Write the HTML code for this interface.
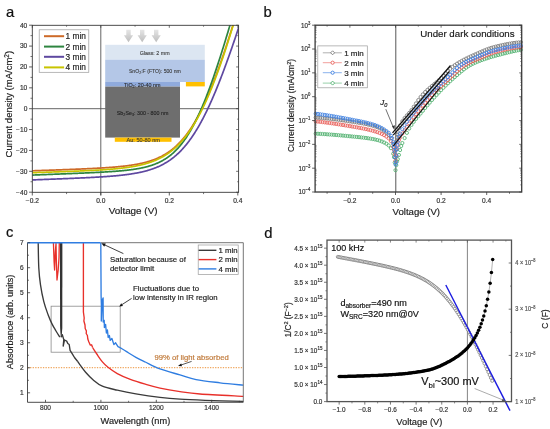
<!DOCTYPE html>
<html><head><meta charset="utf-8"><style>
html,body{margin:0;padding:0;background:#fff;width:550px;height:429px;overflow:hidden}
svg{display:block;will-change:transform}
</style></head><body>
<svg width="550" height="429" viewBox="0 0 550 429" font-family='"Liberation Sans", sans-serif'>
<rect x="0" y="0" width="550" height="429" fill="#fff"/>
<line x1="100.8" y1="25.3" x2="100.8" y2="195.3" stroke="#555" stroke-width="0.9" />
<line x1="32.3" y1="108.7" x2="238.6" y2="108.7" stroke="#555" stroke-width="0.9" />
<rect x="105.2" y="44.8" width="99.6" height="14.9" fill="#dce6f2" stroke="none" stroke-width="0.8" />
<rect x="105.2" y="59.7" width="99.6" height="22.3" fill="#b4c7e7" stroke="none" stroke-width="0.8" />
<rect x="105.2" y="82" width="74.8" height="4.6" fill="#8faadc" stroke="none" stroke-width="0.8" />
<rect x="185.9" y="82" width="18.9" height="4.4" fill="#ffc000" stroke="none" stroke-width="0.8" />
<rect x="105.2" y="86.6" width="74.8" height="51" fill="#6e6e6e" stroke="none" stroke-width="0.8" />
<rect x="114.8" y="137.6" width="56.7" height="4.2" fill="#ffc000" stroke="none" stroke-width="0.8" />
<text x="139.7" y="54.9" font-size="6.2" fill="#3a3a3a" stroke="#3a3a3a" stroke-width="0.12" textLength="29.9" lengthAdjust="spacingAndGlyphs">Glass: 2 mm</text>
<text x="128.9" y="73.2" font-size="6.2" fill="#3a3a3a" stroke="#3a3a3a" stroke-width="0.12" textLength="51.9" lengthAdjust="spacingAndGlyphs">SnO<tspan dy="1.2" font-size="0.7em">2</tspan><tspan dy="-1.2">:F (FTO): 500 nm</tspan></text>
<text x="124.1" y="86.9" font-size="6.2" fill="#2a2a2a" stroke="#2a2a2a" stroke-width="0.12" textLength="36.4" lengthAdjust="spacingAndGlyphs">TiO<tspan dy="1.2" font-size="0.7em">2</tspan><tspan dy="-1.2">: 20-40 nm</tspan></text>
<text x="116.8" y="114.6" font-size="6.2" fill="#222" stroke="#222" stroke-width="0.12" textLength="51.6" lengthAdjust="spacingAndGlyphs">Sb<tspan dy="1.2" font-size="0.7em">2</tspan><tspan dy="-1.2">Se</tspan><tspan dy="1.2" font-size="0.7em">3</tspan><tspan dy="-1.2">: 300 - 800  nm</tspan></text>
<text x="126.5" y="141.7" font-size="6.2" fill="#3a3a3a" stroke="#3a3a3a" stroke-width="0.12" textLength="33.5" lengthAdjust="spacingAndGlyphs">Au: 50-80 nm</text>
<defs><linearGradient id="ag" x1="0" y1="0" x2="0" y2="1"><stop offset="0" stop-color="#e6e6e6"/><stop offset="1" stop-color="#bdbdbd"/></linearGradient></defs>
<path d="M126.3,29.8 L130.7,29.8 L130.7,35.2 L133.1,35.2 L128.5,42.2 L123.9,35.2 L126.3,35.2 Z" fill="url(#ag)"/>
<path d="M140,29.8 L144.4,29.8 L144.4,35.2 L146.8,35.2 L142.2,42.2 L137.6,35.2 L140,35.2 Z" fill="url(#ag)"/>
<path d="M154,29.8 L158.4,29.8 L158.4,35.2 L160.8,35.2 L156.2,42.2 L151.6,35.2 L154,35.2 Z" fill="url(#ag)"/>
<clipPath id="ca"><rect x="32.3" y="25.3" width="206.3" height="167"/></clipPath>
<g clip-path="url(#ca)" stroke-linecap="round" stroke-linejoin="round">
<path d="M32.3,170.8 L32.8,170.78 L33.3,170.77 L33.8,170.75 L34.3,170.73 L34.8,170.72 L35.3,170.7 L35.8,170.68 L36.3,170.66 L36.8,170.65 L37.3,170.63 L37.8,170.61 L38.3,170.6 L38.8,170.58 L39.3,170.56 L39.8,170.54 L40.3,170.53 L40.8,170.51 L41.3,170.49 L41.8,170.47 L42.3,170.46 L42.8,170.44 L43.3,170.42 L43.8,170.4 L44.3,170.39 L44.8,170.37 L45.3,170.35 L45.8,170.33 L46.3,170.32 L46.8,170.3 L47.3,170.28 L47.8,170.26 L48.3,170.25 L48.8,170.23 L49.3,170.21 L49.8,170.19 L50.3,170.18 L50.8,170.16 L51.3,170.14 L51.8,170.12 L52.3,170.1 L52.8,170.09 L53.3,170.07 L53.8,170.05 L54.3,170.03 L54.8,170.01 L55.3,170 L55.8,169.98 L56.3,169.96 L56.8,169.94 L57.3,169.92 L57.8,169.91 L58.3,169.89 L58.8,169.87 L59.3,169.85 L59.8,169.83 L60.3,169.81 L60.8,169.8 L61.3,169.78 L61.8,169.76 L62.3,169.74 L62.8,169.72 L63.3,169.7 L63.8,169.68 L64.3,169.67 L64.8,169.65 L65.3,169.63 L65.8,169.61 L66.3,169.59 L66.8,169.57 L67.3,169.55 L67.8,169.53 L68.3,169.51 L68.8,169.49 L69.3,169.48 L69.8,169.46 L70.3,169.44 L70.8,169.42 L71.3,169.4 L71.8,169.38 L72.3,169.36 L72.8,169.34 L73.3,169.32 L73.8,169.3 L74.3,169.28 L74.8,169.26 L75.3,169.24 L75.8,169.22 L76.3,169.2 L76.8,169.18 L77.3,169.16 L77.8,169.14 L78.3,169.11 L78.8,169.09 L79.3,169.07 L79.8,169.05 L80.3,169.03 L80.8,169.01 L81.3,168.99 L81.8,168.97 L82.3,168.94 L82.8,168.92 L83.3,168.9 L83.8,168.88 L84.3,168.86 L84.8,168.83 L85.3,168.81 L85.8,168.79 L86.3,168.77 L86.8,168.74 L87.3,168.72 L87.8,168.7 L88.3,168.67 L88.8,168.65 L89.3,168.63 L89.8,168.6 L90.3,168.58 L90.8,168.55 L91.3,168.53 L91.8,168.5 L92.3,168.48 L92.8,168.45 L93.3,168.43 L93.8,168.4 L94.3,168.38 L94.8,168.35 L95.3,168.32 L95.8,168.3 L96.3,168.27 L96.8,168.24 L97.3,168.22 L97.8,168.19 L98.3,168.16 L98.8,168.13 L99.3,168.1 L99.8,168.08 L100.3,168.05 L100.8,168.02 L101.3,167.99 L101.8,167.96 L102.3,167.93 L102.8,167.9 L103.3,167.87 L103.8,167.83 L104.3,167.8 L104.8,167.77 L105.3,167.74 L105.8,167.7 L106.3,167.67 L106.8,167.64 L107.3,167.6 L107.8,167.57 L108.3,167.53 L108.8,167.5 L109.3,167.46 L109.8,167.43 L110.3,167.39 L110.8,167.35 L111.3,167.31 L111.8,167.27 L112.3,167.24 L112.8,167.2 L113.3,167.16 L113.8,167.11 L114.3,167.07 L114.8,167.03 L115.3,166.99 L115.8,166.94 L116.3,166.9 L116.8,166.86 L117.3,166.81 L117.8,166.76 L118.3,166.72 L118.8,166.67 L119.3,166.62 L119.8,166.57 L120.3,166.52 L120.8,166.47 L121.3,166.42 L121.8,166.37 L122.3,166.31 L122.8,166.26 L123.3,166.2 L123.8,166.15 L124.3,166.09 L124.8,166.03 L125.3,165.97 L125.8,165.91 L126.3,165.85 L126.8,165.79 L127.3,165.72 L127.8,165.66 L128.3,165.59 L128.8,165.52 L129.3,165.45 L129.8,165.38 L130.3,165.31 L130.8,165.24 L131.3,165.17 L131.8,165.09 L132.3,165.01 L132.8,164.94 L133.3,164.86 L133.8,164.77 L134.3,164.69 L134.8,164.61 L135.3,164.52 L135.8,164.43 L136.3,164.34 L136.8,164.25 L137.3,164.16 L137.8,164.06 L138.3,163.96 L138.8,163.86 L139.3,163.76 L139.8,163.66 L140.3,163.55 L140.8,163.44 L141.3,163.33 L141.8,163.22 L142.3,163.11 L142.8,162.99 L143.3,162.87 L143.8,162.75 L144.3,162.62 L144.8,162.5 L145.3,162.37 L145.8,162.23 L146.3,162.1 L146.8,161.96 L147.3,161.82 L147.8,161.68 L148.3,161.53 L148.8,161.38 L149.3,161.23 L149.8,161.07 L150.3,160.91 L150.8,160.75 L151.3,160.58 L151.8,160.41 L152.3,160.24 L152.8,160.06 L153.3,159.88 L153.8,159.69 L154.3,159.5 L154.8,159.31 L155.3,159.12 L155.8,158.91 L156.3,158.71 L156.8,158.5 L157.3,158.28 L157.8,158.07 L158.3,157.84 L158.8,157.61 L159.3,157.38 L159.8,157.14 L160.3,156.9 L160.8,156.65 L161.3,156.4 L161.8,156.14 L162.3,155.88 L162.8,155.61 L163.3,155.34 L163.8,155.06 L164.3,154.77 L164.8,154.48 L165.3,154.18 L165.8,153.88 L166.3,153.57 L166.8,153.25 L167.3,152.93 L167.8,152.6 L168.3,152.26 L168.8,151.92 L169.3,151.57 L169.8,151.21 L170.3,150.85 L170.8,150.48 L171.3,150.1 L171.8,149.71 L172.3,149.32 L172.8,148.92 L173.3,148.51 L173.8,148.09 L174.3,147.67 L174.8,147.23 L175.3,146.79 L175.8,146.34 L176.3,145.89 L176.8,145.42 L177.3,144.94 L177.8,144.46 L178.3,143.97 L178.8,143.46 L179.3,142.95 L179.8,142.43 L180.3,141.9 L180.8,141.36 L181.3,140.81 L181.8,140.25 L182.3,139.68 L182.8,139.1 L183.3,138.51 L183.8,137.92 L184.3,137.31 L184.8,136.69 L185.3,136.06 L185.8,135.42 L186.3,134.76 L186.8,134.1 L187.3,133.43 L187.8,132.75 L188.3,132.05 L188.8,131.35 L189.3,130.63 L189.8,129.9 L190.3,129.16 L190.8,128.41 L191.3,127.65 L191.8,126.88 L192.3,126.09 L192.8,125.3 L193.3,124.49 L193.8,123.67 L194.3,122.84 L194.8,121.99 L195.3,121.14 L195.8,120.27 L196.3,119.39 L196.8,118.5 L197.3,117.6 L197.8,116.69 L198.3,115.76 L198.8,114.82 L199.3,113.87 L199.8,112.91 L200.3,111.94 L200.8,110.95 L201.3,109.95 L201.8,108.94 L202.3,107.92 L202.8,106.89 L203.3,105.84 L203.8,104.78 L204.3,103.71 L204.8,102.63 L205.3,101.54 L205.8,100.44 L206.3,99.32 L206.8,98.19 L207.3,97.05 L207.8,95.9 L208.3,94.74 L208.8,93.57 L209.3,92.38 L209.8,91.18 L210.3,89.98 L210.8,88.76 L211.3,87.53 L211.8,86.29 L212.3,85.03 L212.8,83.77 L213.3,82.5 L213.8,81.22 L214.3,79.92 L214.8,78.62 L215.3,77.3 L215.8,75.98 L216.3,74.64 L216.8,73.29 L217.3,71.94 L217.8,70.57 L218.3,69.2 L218.8,67.81 L219.3,66.42 L219.8,65.02 L220.3,63.6 L220.8,62.18 L221.3,60.75 L221.8,59.31 L222.3,57.86 L222.8,56.4 L223.3,54.93 L223.8,53.46 L224.3,51.98 L224.8,50.48 L225.3,48.98 L225.8,47.48 L226.3,45.96 L226.8,44.44 L227.3,42.9 L227.8,41.36 L228.3,39.82 L228.8,38.26 L229.3,36.7 L229.8,35.13 L230.3,33.56 L230.8,31.98 L231.3,30.39 L231.8,28.79 L232.3,27.19 L232.8,25.58 L233.3,23.97 L233.8,22.34 L234.3,20.72 L234.8,19.08" stroke="#cd6a28" stroke-width="1.7" fill="none" />
<path d="M32.3,175.07 L32.8,175.05 L33.3,175.04 L33.8,175.02 L34.3,175 L34.8,174.98 L35.3,174.96 L35.8,174.94 L36.3,174.92 L36.8,174.9 L37.3,174.88 L37.8,174.86 L38.3,174.84 L38.8,174.83 L39.3,174.81 L39.8,174.79 L40.3,174.77 L40.8,174.75 L41.3,174.73 L41.8,174.71 L42.3,174.69 L42.8,174.67 L43.3,174.65 L43.8,174.63 L44.3,174.61 L44.8,174.6 L45.3,174.58 L45.8,174.56 L46.3,174.54 L46.8,174.52 L47.3,174.5 L47.8,174.48 L48.3,174.46 L48.8,174.44 L49.3,174.42 L49.8,174.4 L50.3,174.38 L50.8,174.36 L51.3,174.34 L51.8,174.33 L52.3,174.31 L52.8,174.29 L53.3,174.27 L53.8,174.25 L54.3,174.23 L54.8,174.21 L55.3,174.19 L55.8,174.17 L56.3,174.15 L56.8,174.13 L57.3,174.11 L57.8,174.09 L58.3,174.07 L58.8,174.05 L59.3,174.03 L59.8,174.01 L60.3,173.99 L60.8,173.97 L61.3,173.95 L61.8,173.93 L62.3,173.91 L62.8,173.89 L63.3,173.87 L63.8,173.86 L64.3,173.84 L64.8,173.82 L65.3,173.8 L65.8,173.78 L66.3,173.76 L66.8,173.74 L67.3,173.72 L67.8,173.7 L68.3,173.67 L68.8,173.65 L69.3,173.63 L69.8,173.61 L70.3,173.59 L70.8,173.57 L71.3,173.55 L71.8,173.53 L72.3,173.51 L72.8,173.49 L73.3,173.47 L73.8,173.45 L74.3,173.43 L74.8,173.41 L75.3,173.39 L75.8,173.37 L76.3,173.35 L76.8,173.33 L77.3,173.31 L77.8,173.28 L78.3,173.26 L78.8,173.24 L79.3,173.22 L79.8,173.2 L80.3,173.18 L80.8,173.16 L81.3,173.13 L81.8,173.11 L82.3,173.09 L82.8,173.07 L83.3,173.05 L83.8,173.03 L84.3,173 L84.8,172.98 L85.3,172.96 L85.8,172.94 L86.3,172.91 L86.8,172.89 L87.3,172.87 L87.8,172.85 L88.3,172.82 L88.8,172.8 L89.3,172.78 L89.8,172.75 L90.3,172.73 L90.8,172.71 L91.3,172.68 L91.8,172.66 L92.3,172.64 L92.8,172.61 L93.3,172.59 L93.8,172.56 L94.3,172.54 L94.8,172.51 L95.3,172.49 L95.8,172.47 L96.3,172.44 L96.8,172.41 L97.3,172.39 L97.8,172.36 L98.3,172.34 L98.8,172.31 L99.3,172.28 L99.8,172.26 L100.3,172.23 L100.8,172.2 L101.3,172.18 L101.8,172.15 L102.3,172.12 L102.8,172.09 L103.3,172.07 L103.8,172.04 L104.3,172.01 L104.8,171.98 L105.3,171.95 L105.8,171.92 L106.3,171.89 L106.8,171.86 L107.3,171.83 L107.8,171.8 L108.3,171.77 L108.8,171.73 L109.3,171.7 L109.8,171.67 L110.3,171.64 L110.8,171.6 L111.3,171.57 L111.8,171.53 L112.3,171.5 L112.8,171.46 L113.3,171.43 L113.8,171.39 L114.3,171.36 L114.8,171.32 L115.3,171.28 L115.8,171.24 L116.3,171.2 L116.8,171.16 L117.3,171.12 L117.8,171.08 L118.3,171.04 L118.8,171 L119.3,170.96 L119.8,170.91 L120.3,170.87 L120.8,170.83 L121.3,170.78 L121.8,170.73 L122.3,170.69 L122.8,170.64 L123.3,170.59 L123.8,170.54 L124.3,170.49 L124.8,170.44 L125.3,170.39 L125.8,170.33 L126.3,170.28 L126.8,170.22 L127.3,170.17 L127.8,170.11 L128.3,170.05 L128.8,169.99 L129.3,169.93 L129.8,169.87 L130.3,169.8 L130.8,169.74 L131.3,169.67 L131.8,169.61 L132.3,169.54 L132.8,169.47 L133.3,169.4 L133.8,169.32 L134.3,169.25 L134.8,169.17 L135.3,169.1 L135.8,169.02 L136.3,168.93 L136.8,168.85 L137.3,168.77 L137.8,168.68 L138.3,168.59 L138.8,168.5 L139.3,168.41 L139.8,168.31 L140.3,168.22 L140.8,168.12 L141.3,168.02 L141.8,167.91 L142.3,167.81 L142.8,167.7 L143.3,167.59 L143.8,167.47 L144.3,167.36 L144.8,167.24 L145.3,167.12 L145.8,166.99 L146.3,166.86 L146.8,166.73 L147.3,166.6 L147.8,166.46 L148.3,166.32 L148.8,166.18 L149.3,166.03 L149.8,165.88 L150.3,165.73 L150.8,165.57 L151.3,165.41 L151.8,165.24 L152.3,165.08 L152.8,164.9 L153.3,164.72 L153.8,164.54 L154.3,164.36 L154.8,164.17 L155.3,163.97 L155.8,163.77 L156.3,163.57 L156.8,163.36 L157.3,163.14 L157.8,162.92 L158.3,162.7 L158.8,162.47 L159.3,162.23 L159.8,161.99 L160.3,161.74 L160.8,161.49 L161.3,161.23 L161.8,160.96 L162.3,160.69 L162.8,160.41 L163.3,160.13 L163.8,159.84 L164.3,159.54 L164.8,159.23 L165.3,158.92 L165.8,158.6 L166.3,158.28 L166.8,157.94 L167.3,157.6 L167.8,157.25 L168.3,156.89 L168.8,156.52 L169.3,156.15 L169.8,155.77 L170.3,155.37 L170.8,154.97 L171.3,154.56 L171.8,154.15 L172.3,153.72 L172.8,153.28 L173.3,152.84 L173.8,152.38 L174.3,151.91 L174.8,151.44 L175.3,150.95 L175.8,150.45 L176.3,149.95 L176.8,149.43 L177.3,148.9 L177.8,148.36 L178.3,147.81 L178.8,147.25 L179.3,146.68 L179.8,146.1 L180.3,145.5 L180.8,144.89 L181.3,144.28 L181.8,143.64 L182.3,143 L182.8,142.35 L183.3,141.68 L183.8,141 L184.3,140.31 L184.8,139.6 L185.3,138.89 L185.8,138.15 L186.3,137.41 L186.8,136.66 L187.3,135.89 L187.8,135.1 L188.3,134.31 L188.8,133.5 L189.3,132.68 L189.8,131.84 L190.3,130.99 L190.8,130.13 L191.3,129.25 L191.8,128.36 L192.3,127.46 L192.8,126.54 L193.3,125.61 L193.8,124.67 L194.3,123.71 L194.8,122.74 L195.3,121.76 L195.8,120.76 L196.3,119.74 L196.8,118.72 L197.3,117.68 L197.8,116.63 L198.3,115.56 L198.8,114.48 L199.3,113.39 L199.8,112.28 L200.3,111.16 L200.8,110.03 L201.3,108.88 L201.8,107.72 L202.3,106.55 L202.8,105.36 L203.3,104.16 L203.8,102.95 L204.3,101.73 L204.8,100.49 L205.3,99.24 L205.8,97.98 L206.3,96.71 L206.8,95.42 L207.3,94.13 L207.8,92.82 L208.3,91.5 L208.8,90.17 L209.3,88.82 L209.8,87.47 L210.3,86.1 L210.8,84.72 L211.3,83.34 L211.8,81.94 L212.3,80.53 L212.8,79.11 L213.3,77.68 L213.8,76.24 L214.3,74.79 L214.8,73.33 L215.3,71.86 L215.8,70.38 L216.3,68.89 L216.8,67.39 L217.3,65.88 L217.8,64.37 L218.3,62.84 L218.8,61.31 L219.3,59.77 L219.8,58.22 L220.3,56.66 L220.8,55.09 L221.3,53.52 L221.8,51.94 L222.3,50.35 L222.8,48.75 L223.3,47.14 L223.8,45.53 L224.3,43.91 L224.8,42.29 L225.3,40.66 L225.8,39.02 L226.3,37.37 L226.8,35.72 L227.3,34.06 L227.8,32.4 L228.3,30.73 L228.8,29.05 L229.3,27.37 L229.8,25.69 L230.3,23.99 L230.8,22.3 L231.3,20.59 L231.8,18.89" stroke="#2e8540" stroke-width="1.7" fill="none" />
<path d="M32.3,179.91 L32.8,179.89 L33.3,179.88 L33.8,179.86 L34.3,179.84 L34.8,179.82 L35.3,179.8 L35.8,179.78 L36.3,179.76 L36.8,179.74 L37.3,179.73 L37.8,179.71 L38.3,179.69 L38.8,179.67 L39.3,179.65 L39.8,179.63 L40.3,179.61 L40.8,179.6 L41.3,179.58 L41.8,179.56 L42.3,179.54 L42.8,179.52 L43.3,179.5 L43.8,179.48 L44.3,179.46 L44.8,179.44 L45.3,179.43 L45.8,179.41 L46.3,179.39 L46.8,179.37 L47.3,179.35 L47.8,179.33 L48.3,179.31 L48.8,179.29 L49.3,179.27 L49.8,179.25 L50.3,179.23 L50.8,179.22 L51.3,179.2 L51.8,179.18 L52.3,179.16 L52.8,179.14 L53.3,179.12 L53.8,179.1 L54.3,179.08 L54.8,179.06 L55.3,179.04 L55.8,179.02 L56.3,179 L56.8,178.98 L57.3,178.96 L57.8,178.94 L58.3,178.92 L58.8,178.9 L59.3,178.88 L59.8,178.86 L60.3,178.84 L60.8,178.82 L61.3,178.8 L61.8,178.78 L62.3,178.76 L62.8,178.74 L63.3,178.72 L63.8,178.7 L64.3,178.68 L64.8,178.66 L65.3,178.64 L65.8,178.62 L66.3,178.6 L66.8,178.58 L67.3,178.56 L67.8,178.54 L68.3,178.52 L68.8,178.5 L69.3,178.48 L69.8,178.46 L70.3,178.43 L70.8,178.41 L71.3,178.39 L71.8,178.37 L72.3,178.35 L72.8,178.33 L73.3,178.31 L73.8,178.29 L74.3,178.26 L74.8,178.24 L75.3,178.22 L75.8,178.2 L76.3,178.18 L76.8,178.15 L77.3,178.13 L77.8,178.11 L78.3,178.09 L78.8,178.06 L79.3,178.04 L79.8,178.02 L80.3,178 L80.8,177.97 L81.3,177.95 L81.8,177.93 L82.3,177.9 L82.8,177.88 L83.3,177.86 L83.8,177.83 L84.3,177.81 L84.8,177.78 L85.3,177.76 L85.8,177.74 L86.3,177.71 L86.8,177.69 L87.3,177.66 L87.8,177.64 L88.3,177.61 L88.8,177.59 L89.3,177.56 L89.8,177.53 L90.3,177.51 L90.8,177.48 L91.3,177.46 L91.8,177.43 L92.3,177.4 L92.8,177.38 L93.3,177.35 L93.8,177.32 L94.3,177.29 L94.8,177.27 L95.3,177.24 L95.8,177.21 L96.3,177.18 L96.8,177.15 L97.3,177.12 L97.8,177.09 L98.3,177.06 L98.8,177.03 L99.3,177 L99.8,176.97 L100.3,176.94 L100.8,176.91 L101.3,176.88 L101.8,176.85 L102.3,176.81 L102.8,176.78 L103.3,176.75 L103.8,176.72 L104.3,176.68 L104.8,176.65 L105.3,176.61 L105.8,176.58 L106.3,176.54 L106.8,176.51 L107.3,176.47 L107.8,176.43 L108.3,176.4 L108.8,176.36 L109.3,176.32 L109.8,176.28 L110.3,176.24 L110.8,176.2 L111.3,176.16 L111.8,176.12 L112.3,176.08 L112.8,176.04 L113.3,176 L113.8,175.96 L114.3,175.91 L114.8,175.87 L115.3,175.82 L115.8,175.78 L116.3,175.73 L116.8,175.68 L117.3,175.64 L117.8,175.59 L118.3,175.54 L118.8,175.49 L119.3,175.44 L119.8,175.39 L120.3,175.34 L120.8,175.28 L121.3,175.23 L121.8,175.17 L122.3,175.12 L122.8,175.06 L123.3,175 L123.8,174.95 L124.3,174.89 L124.8,174.83 L125.3,174.76 L125.8,174.7 L126.3,174.64 L126.8,174.57 L127.3,174.51 L127.8,174.44 L128.3,174.37 L128.8,174.3 L129.3,174.23 L129.8,174.16 L130.3,174.09 L130.8,174.01 L131.3,173.94 L131.8,173.86 L132.3,173.78 L132.8,173.7 L133.3,173.62 L133.8,173.53 L134.3,173.45 L134.8,173.36 L135.3,173.28 L135.8,173.19 L136.3,173.09 L136.8,173 L137.3,172.91 L137.8,172.81 L138.3,172.71 L138.8,172.61 L139.3,172.51 L139.8,172.4 L140.3,172.3 L140.8,172.19 L141.3,172.08 L141.8,171.96 L142.3,171.85 L142.8,171.73 L143.3,171.61 L143.8,171.49 L144.3,171.36 L144.8,171.23 L145.3,171.1 L145.8,170.97 L146.3,170.84 L146.8,170.7 L147.3,170.56 L147.8,170.41 L148.3,170.27 L148.8,170.12 L149.3,169.97 L149.8,169.81 L150.3,169.65 L150.8,169.49 L151.3,169.32 L151.8,169.16 L152.3,168.98 L152.8,168.81 L153.3,168.63 L153.8,168.45 L154.3,168.26 L154.8,168.07 L155.3,167.88 L155.8,167.68 L156.3,167.48 L156.8,167.27 L157.3,167.06 L157.8,166.85 L158.3,166.63 L158.8,166.4 L159.3,166.18 L159.8,165.94 L160.3,165.71 L160.8,165.46 L161.3,165.22 L161.8,164.97 L162.3,164.71 L162.8,164.45 L163.3,164.18 L163.8,163.91 L164.3,163.63 L164.8,163.35 L165.3,163.06 L165.8,162.77 L166.3,162.47 L166.8,162.16 L167.3,161.85 L167.8,161.53 L168.3,161.21 L168.8,160.87 L169.3,160.54 L169.8,160.19 L170.3,159.85 L170.8,159.49 L171.3,159.13 L171.8,158.76 L172.3,158.38 L172.8,157.99 L173.3,157.6 L173.8,157.21 L174.3,156.8 L174.8,156.39 L175.3,155.97 L175.8,155.54 L176.3,155.1 L176.8,154.66 L177.3,154.21 L177.8,153.75 L178.3,153.28 L178.8,152.8 L179.3,152.32 L179.8,151.82 L180.3,151.32 L180.8,150.81 L181.3,150.29 L181.8,149.76 L182.3,149.23 L182.8,148.68 L183.3,148.13 L183.8,147.56 L184.3,146.99 L184.8,146.41 L185.3,145.82 L185.8,145.22 L186.3,144.61 L186.8,143.99 L187.3,143.36 L187.8,142.72 L188.3,142.07 L188.8,141.41 L189.3,140.74 L189.8,140.06 L190.3,139.37 L190.8,138.67 L191.3,137.96 L191.8,137.25 L192.3,136.52 L192.8,135.78 L193.3,135.03 L193.8,134.27 L194.3,133.5 L194.8,132.71 L195.3,131.92 L195.8,131.12 L196.3,130.31 L196.8,129.49 L197.3,128.65 L197.8,127.81 L198.3,126.95 L198.8,126.09 L199.3,125.21 L199.8,124.33 L200.3,123.43 L200.8,122.52 L201.3,121.61 L201.8,120.68 L202.3,119.74 L202.8,118.79 L203.3,117.83 L203.8,116.86 L204.3,115.88 L204.8,114.89 L205.3,113.89 L205.8,112.88 L206.3,111.86 L206.8,110.83 L207.3,109.79 L207.8,108.74 L208.3,107.67 L208.8,106.6 L209.3,105.52 L209.8,104.43 L210.3,103.33 L210.8,102.22 L211.3,101.1 L211.8,99.97 L212.3,98.83 L212.8,97.68 L213.3,96.52 L213.8,95.36 L214.3,94.18 L214.8,92.99 L215.3,91.8 L215.8,90.6 L216.3,89.38 L216.8,88.16 L217.3,86.93 L217.8,85.69 L218.3,84.45 L218.8,83.19 L219.3,81.93 L219.8,80.66 L220.3,79.38 L220.8,78.09 L221.3,76.79 L221.8,75.49 L222.3,74.18 L222.8,72.86 L223.3,71.53 L223.8,70.2 L224.3,68.86 L224.8,67.51 L225.3,66.15 L225.8,64.79 L226.3,63.42 L226.8,62.04 L227.3,60.66 L227.8,59.27 L228.3,57.88 L228.8,56.47 L229.3,55.06 L229.8,53.65 L230.3,52.23 L230.8,50.8 L231.3,49.37 L231.8,47.93 L232.3,46.48 L232.8,45.03 L233.3,43.57 L233.8,42.11 L234.3,40.65 L234.8,39.17 L235.3,37.7 L235.8,36.21 L236.3,34.73 L236.8,33.23 L237.3,31.74 L237.8,30.23 L238.3,28.73 L238.8,27.21 L239.3,25.7 L239.8,24.18" stroke="#5e48a0" stroke-width="1.7" fill="none" />
<path d="M32.3,172.68 L32.8,172.66 L33.3,172.64 L33.8,172.63 L34.3,172.61 L34.8,172.6 L35.3,172.58 L35.8,172.56 L36.3,172.55 L36.8,172.53 L37.3,172.52 L37.8,172.5 L38.3,172.48 L38.8,172.47 L39.3,172.45 L39.8,172.43 L40.3,172.42 L40.8,172.4 L41.3,172.38 L41.8,172.37 L42.3,172.35 L42.8,172.34 L43.3,172.32 L43.8,172.3 L44.3,172.29 L44.8,172.27 L45.3,172.25 L45.8,172.24 L46.3,172.22 L46.8,172.2 L47.3,172.19 L47.8,172.17 L48.3,172.15 L48.8,172.14 L49.3,172.12 L49.8,172.1 L50.3,172.09 L50.8,172.07 L51.3,172.05 L51.8,172.03 L52.3,172.02 L52.8,172 L53.3,171.98 L53.8,171.97 L54.3,171.95 L54.8,171.93 L55.3,171.92 L55.8,171.9 L56.3,171.88 L56.8,171.86 L57.3,171.85 L57.8,171.83 L58.3,171.81 L58.8,171.79 L59.3,171.78 L59.8,171.76 L60.3,171.74 L60.8,171.72 L61.3,171.7 L61.8,171.69 L62.3,171.67 L62.8,171.65 L63.3,171.63 L63.8,171.61 L64.3,171.6 L64.8,171.58 L65.3,171.56 L65.8,171.54 L66.3,171.52 L66.8,171.5 L67.3,171.49 L67.8,171.47 L68.3,171.45 L68.8,171.43 L69.3,171.41 L69.8,171.39 L70.3,171.37 L70.8,171.35 L71.3,171.33 L71.8,171.31 L72.3,171.29 L72.8,171.28 L73.3,171.26 L73.8,171.24 L74.3,171.22 L74.8,171.2 L75.3,171.18 L75.8,171.16 L76.3,171.14 L76.8,171.11 L77.3,171.09 L77.8,171.07 L78.3,171.05 L78.8,171.03 L79.3,171.01 L79.8,170.99 L80.3,170.97 L80.8,170.95 L81.3,170.93 L81.8,170.9 L82.3,170.88 L82.8,170.86 L83.3,170.84 L83.8,170.81 L84.3,170.79 L84.8,170.77 L85.3,170.75 L85.8,170.72 L86.3,170.7 L86.8,170.68 L87.3,170.65 L87.8,170.63 L88.3,170.6 L88.8,170.58 L89.3,170.56 L89.8,170.53 L90.3,170.51 L90.8,170.48 L91.3,170.46 L91.8,170.43 L92.3,170.4 L92.8,170.38 L93.3,170.35 L93.8,170.33 L94.3,170.3 L94.8,170.27 L95.3,170.24 L95.8,170.22 L96.3,170.19 L96.8,170.16 L97.3,170.13 L97.8,170.1 L98.3,170.07 L98.8,170.04 L99.3,170.01 L99.8,169.98 L100.3,169.95 L100.8,169.92 L101.3,169.89 L101.8,169.86 L102.3,169.83 L102.8,169.79 L103.3,169.76 L103.8,169.73 L104.3,169.69 L104.8,169.66 L105.3,169.62 L105.8,169.59 L106.3,169.55 L106.8,169.52 L107.3,169.48 L107.8,169.44 L108.3,169.41 L108.8,169.37 L109.3,169.33 L109.8,169.29 L110.3,169.25 L110.8,169.21 L111.3,169.17 L111.8,169.13 L112.3,169.08 L112.8,169.04 L113.3,169 L113.8,168.95 L114.3,168.91 L114.8,168.86 L115.3,168.82 L115.8,168.77 L116.3,168.72 L116.8,168.67 L117.3,168.62 L117.8,168.57 L118.3,168.52 L118.8,168.47 L119.3,168.42 L119.8,168.36 L120.3,168.31 L120.8,168.25 L121.3,168.2 L121.8,168.14 L122.3,168.08 L122.8,168.02 L123.3,167.96 L123.8,167.9 L124.3,167.84 L124.8,167.77 L125.3,167.71 L125.8,167.64 L126.3,167.58 L126.8,167.51 L127.3,167.44 L127.8,167.37 L128.3,167.3 L128.8,167.22 L129.3,167.15 L129.8,167.07 L130.3,166.99 L130.8,166.92 L131.3,166.83 L131.8,166.75 L132.3,166.67 L132.8,166.58 L133.3,166.5 L133.8,166.41 L134.3,166.32 L134.8,166.23 L135.3,166.13 L135.8,166.04 L136.3,165.94 L136.8,165.84 L137.3,165.74 L137.8,165.64 L138.3,165.53 L138.8,165.42 L139.3,165.31 L139.8,165.2 L140.3,165.09 L140.8,164.97 L141.3,164.85 L141.8,164.73 L142.3,164.61 L142.8,164.49 L143.3,164.36 L143.8,164.23 L144.3,164.09 L144.8,163.96 L145.3,163.82 L145.8,163.68 L146.3,163.53 L146.8,163.39 L147.3,163.24 L147.8,163.08 L148.3,162.93 L148.8,162.77 L149.3,162.61 L149.8,162.44 L150.3,162.27 L150.8,162.1 L151.3,161.92 L151.8,161.74 L152.3,161.56 L152.8,161.37 L153.3,161.18 L153.8,160.99 L154.3,160.79 L154.8,160.59 L155.3,160.38 L155.8,160.17 L156.3,159.95 L156.8,159.73 L157.3,159.51 L157.8,159.28 L158.3,159.05 L158.8,158.81 L159.3,158.57 L159.8,158.32 L160.3,158.07 L160.8,157.81 L161.3,157.55 L161.8,157.28 L162.3,157.01 L162.8,156.73 L163.3,156.45 L163.8,156.16 L164.3,155.87 L164.8,155.57 L165.3,155.26 L165.8,154.95 L166.3,154.63 L166.8,154.3 L167.3,153.97 L167.8,153.64 L168.3,153.29 L168.8,152.94 L169.3,152.59 L169.8,152.22 L170.3,151.85 L170.8,151.47 L171.3,151.09 L171.8,150.7 L172.3,150.3 L172.8,149.89 L173.3,149.47 L173.8,149.05 L174.3,148.62 L174.8,148.18 L175.3,147.74 L175.8,147.28 L176.3,146.82 L176.8,146.35 L177.3,145.87 L177.8,145.39 L178.3,144.89 L178.8,144.38 L179.3,143.87 L179.8,143.35 L180.3,142.82 L180.8,142.27 L181.3,141.72 L181.8,141.16 L182.3,140.59 L182.8,140.02 L183.3,139.43 L183.8,138.83 L184.3,138.22 L184.8,137.6 L185.3,136.97 L185.8,136.34 L186.3,135.69 L186.8,135.03 L187.3,134.36 L187.8,133.68 L188.3,132.99 L188.8,132.29 L189.3,131.57 L189.8,130.85 L190.3,130.12 L190.8,129.37 L191.3,128.61 L191.8,127.85 L192.3,127.07 L192.8,126.28 L193.3,125.48 L193.8,124.66 L194.3,123.84 L194.8,123 L195.3,122.16 L195.8,121.3 L196.3,120.43 L196.8,119.55 L197.3,118.65 L197.8,117.75 L198.3,116.83 L198.8,115.9 L199.3,114.96 L199.8,114.01 L200.3,113.04 L200.8,112.06 L201.3,111.07 L201.8,110.07 L202.3,109.06 L202.8,108.04 L203.3,107 L203.8,105.95 L204.3,104.89 L204.8,103.82 L205.3,102.74 L205.8,101.64 L206.3,100.53 L206.8,99.41 L207.3,98.28 L207.8,97.14 L208.3,95.98 L208.8,94.82 L209.3,93.64 L209.8,92.45 L210.3,91.25 L210.8,90.03 L211.3,88.81 L211.8,87.57 L212.3,86.33 L212.8,85.07 L213.3,83.8 L213.8,82.52 L214.3,81.23 L214.8,79.93 L215.3,78.61 L215.8,77.29 L216.3,75.95 L216.8,74.61 L217.3,73.25 L217.8,71.88 L218.3,70.51 L218.8,69.12 L219.3,67.72 L219.8,66.31 L220.3,64.89 L220.8,63.47 L221.3,62.03 L221.8,60.58 L222.3,59.12 L222.8,57.66 L223.3,56.18 L223.8,54.69 L224.3,53.2 L224.8,51.7 L225.3,50.18 L225.8,48.66 L226.3,47.13 L226.8,45.59 L227.3,44.04 L227.8,42.48 L228.3,40.92 L228.8,39.35 L229.3,37.76 L229.8,36.17 L230.3,34.58 L230.8,32.97 L231.3,31.36 L231.8,29.74 L232.3,28.11 L232.8,26.47 L233.3,24.83 L233.8,23.18 L234.3,21.52 L234.8,19.86" stroke="#c8c400" stroke-width="1.7" fill="none" />
</g>
<rect x="32.3" y="25.3" width="206.3" height="167" fill="none" stroke="#3a3a3a" stroke-width="0.9" />
<line x1="29.1" y1="192.2" x2="32.3" y2="192.2" stroke="#3a3a3a" stroke-width="0.8" />
<line x1="236.1" y1="192.2" x2="238.6" y2="192.2" stroke="#3a3a3a" stroke-width="0.7" />
<text x="27.3" y="194.5" font-size="6.6" fill="#333" stroke="#333" stroke-width="0.18" text-anchor="end" >&#8722;40</text>
<line x1="30.5" y1="181.76" x2="32.3" y2="181.76" stroke="#3a3a3a" stroke-width="0.7" />
<line x1="237.1" y1="181.76" x2="238.6" y2="181.76" stroke="#3a3a3a" stroke-width="0.6" />
<line x1="29.1" y1="171.32" x2="32.3" y2="171.32" stroke="#3a3a3a" stroke-width="0.8" />
<line x1="236.1" y1="171.32" x2="238.6" y2="171.32" stroke="#3a3a3a" stroke-width="0.7" />
<text x="27.3" y="173.62" font-size="6.6" fill="#333" stroke="#333" stroke-width="0.18" text-anchor="end" >&#8722;30</text>
<line x1="30.5" y1="160.89" x2="32.3" y2="160.89" stroke="#3a3a3a" stroke-width="0.7" />
<line x1="237.1" y1="160.89" x2="238.6" y2="160.89" stroke="#3a3a3a" stroke-width="0.6" />
<line x1="29.1" y1="150.45" x2="32.3" y2="150.45" stroke="#3a3a3a" stroke-width="0.8" />
<line x1="236.1" y1="150.45" x2="238.6" y2="150.45" stroke="#3a3a3a" stroke-width="0.7" />
<text x="27.3" y="152.75" font-size="6.6" fill="#333" stroke="#333" stroke-width="0.18" text-anchor="end" >&#8722;20</text>
<line x1="30.5" y1="140.01" x2="32.3" y2="140.01" stroke="#3a3a3a" stroke-width="0.7" />
<line x1="237.1" y1="140.01" x2="238.6" y2="140.01" stroke="#3a3a3a" stroke-width="0.6" />
<line x1="29.1" y1="129.57" x2="32.3" y2="129.57" stroke="#3a3a3a" stroke-width="0.8" />
<line x1="236.1" y1="129.57" x2="238.6" y2="129.57" stroke="#3a3a3a" stroke-width="0.7" />
<text x="27.3" y="131.88" font-size="6.6" fill="#333" stroke="#333" stroke-width="0.18" text-anchor="end" >&#8722;10</text>
<line x1="30.5" y1="119.14" x2="32.3" y2="119.14" stroke="#3a3a3a" stroke-width="0.7" />
<line x1="237.1" y1="119.14" x2="238.6" y2="119.14" stroke="#3a3a3a" stroke-width="0.6" />
<line x1="29.1" y1="108.7" x2="32.3" y2="108.7" stroke="#3a3a3a" stroke-width="0.8" />
<line x1="236.1" y1="108.7" x2="238.6" y2="108.7" stroke="#3a3a3a" stroke-width="0.7" />
<text x="27.3" y="111" font-size="6.6" fill="#333" stroke="#333" stroke-width="0.18" text-anchor="end" >0</text>
<line x1="30.5" y1="98.26" x2="32.3" y2="98.26" stroke="#3a3a3a" stroke-width="0.7" />
<line x1="237.1" y1="98.26" x2="238.6" y2="98.26" stroke="#3a3a3a" stroke-width="0.6" />
<line x1="29.1" y1="87.83" x2="32.3" y2="87.83" stroke="#3a3a3a" stroke-width="0.8" />
<line x1="236.1" y1="87.83" x2="238.6" y2="87.83" stroke="#3a3a3a" stroke-width="0.7" />
<text x="27.3" y="90.12" font-size="6.6" fill="#333" stroke="#333" stroke-width="0.18" text-anchor="end" >10</text>
<line x1="30.5" y1="77.39" x2="32.3" y2="77.39" stroke="#3a3a3a" stroke-width="0.7" />
<line x1="237.1" y1="77.39" x2="238.6" y2="77.39" stroke="#3a3a3a" stroke-width="0.6" />
<line x1="29.1" y1="66.95" x2="32.3" y2="66.95" stroke="#3a3a3a" stroke-width="0.8" />
<line x1="236.1" y1="66.95" x2="238.6" y2="66.95" stroke="#3a3a3a" stroke-width="0.7" />
<text x="27.3" y="69.25" font-size="6.6" fill="#333" stroke="#333" stroke-width="0.18" text-anchor="end" >20</text>
<line x1="30.5" y1="56.51" x2="32.3" y2="56.51" stroke="#3a3a3a" stroke-width="0.7" />
<line x1="237.1" y1="56.51" x2="238.6" y2="56.51" stroke="#3a3a3a" stroke-width="0.6" />
<line x1="29.1" y1="46.08" x2="32.3" y2="46.08" stroke="#3a3a3a" stroke-width="0.8" />
<line x1="236.1" y1="46.08" x2="238.6" y2="46.08" stroke="#3a3a3a" stroke-width="0.7" />
<text x="27.3" y="48.38" font-size="6.6" fill="#333" stroke="#333" stroke-width="0.18" text-anchor="end" >30</text>
<line x1="30.5" y1="35.64" x2="32.3" y2="35.64" stroke="#3a3a3a" stroke-width="0.7" />
<line x1="237.1" y1="35.64" x2="238.6" y2="35.64" stroke="#3a3a3a" stroke-width="0.6" />
<line x1="29.1" y1="25.2" x2="32.3" y2="25.2" stroke="#3a3a3a" stroke-width="0.8" />
<line x1="236.1" y1="25.2" x2="238.6" y2="25.2" stroke="#3a3a3a" stroke-width="0.7" />
<text x="27.3" y="27.5" font-size="6.6" fill="#333" stroke="#333" stroke-width="0.18" text-anchor="end" >40</text>
<line x1="32.3" y1="192.3" x2="32.3" y2="195.5" stroke="#3a3a3a" stroke-width="0.8" />
<line x1="32.3" y1="25.3" x2="32.3" y2="27.8" stroke="#3a3a3a" stroke-width="0.7" />
<text x="32.3" y="202.9" font-size="6.6" fill="#333" stroke="#333" stroke-width="0.18" text-anchor="middle" >&#8722;0.2</text>
<line x1="66.55" y1="192.3" x2="66.55" y2="194.1" stroke="#3a3a3a" stroke-width="0.7" />
<line x1="66.55" y1="25.3" x2="66.55" y2="26.8" stroke="#3a3a3a" stroke-width="0.6" />
<line x1="100.8" y1="192.3" x2="100.8" y2="195.5" stroke="#3a3a3a" stroke-width="0.8" />
<line x1="100.8" y1="25.3" x2="100.8" y2="27.8" stroke="#3a3a3a" stroke-width="0.7" />
<text x="100.8" y="202.9" font-size="6.6" fill="#333" stroke="#333" stroke-width="0.18" text-anchor="middle" >0.0</text>
<line x1="135.05" y1="192.3" x2="135.05" y2="194.1" stroke="#3a3a3a" stroke-width="0.7" />
<line x1="135.05" y1="25.3" x2="135.05" y2="26.8" stroke="#3a3a3a" stroke-width="0.6" />
<line x1="169.3" y1="192.3" x2="169.3" y2="195.5" stroke="#3a3a3a" stroke-width="0.8" />
<line x1="169.3" y1="25.3" x2="169.3" y2="27.8" stroke="#3a3a3a" stroke-width="0.7" />
<text x="169.3" y="202.9" font-size="6.6" fill="#333" stroke="#333" stroke-width="0.18" text-anchor="middle" >0.2</text>
<line x1="203.55" y1="192.3" x2="203.55" y2="194.1" stroke="#3a3a3a" stroke-width="0.7" />
<line x1="203.55" y1="25.3" x2="203.55" y2="26.8" stroke="#3a3a3a" stroke-width="0.6" />
<line x1="237.8" y1="192.3" x2="237.8" y2="195.5" stroke="#3a3a3a" stroke-width="0.8" />
<line x1="237.8" y1="25.3" x2="237.8" y2="27.8" stroke="#3a3a3a" stroke-width="0.7" />
<text x="237.8" y="202.9" font-size="6.6" fill="#333" stroke="#333" stroke-width="0.18" text-anchor="middle" >0.4</text>
<text x="133.1" y="214.2" font-size="9.9" fill="#222" stroke="#222" stroke-width="0.18" text-anchor="middle" >Voltage (V)</text>
<text transform="translate(12.2,104.2) rotate(-90)" font-size="9.5" fill="#222" stroke="#222" stroke-width="0.18" text-anchor="middle">Current density (mA/cm<tspan dy="-3.5" font-size="0.68em">2</tspan><tspan dy="3.5">)</tspan></text>
<rect x="39.2" y="29.8" width="49.6" height="42.5" fill="#fff" stroke="#9a9a9a" stroke-width="0.7" />
<line x1="44" y1="36.2" x2="64.1" y2="36.2" stroke="#cd6a28" stroke-width="2.0" />
<text x="65.6" y="39.2" font-size="8.3" fill="#222" stroke="#222" stroke-width="0.18" text-anchor="start" >1 min</text>
<line x1="44" y1="46.6" x2="64.1" y2="46.6" stroke="#2e8540" stroke-width="2.0" />
<text x="65.6" y="49.6" font-size="8.3" fill="#222" stroke="#222" stroke-width="0.18" text-anchor="start" >2 min</text>
<line x1="44" y1="56.8" x2="64.1" y2="56.8" stroke="#5e48a0" stroke-width="2.0" />
<text x="65.6" y="59.8" font-size="8.3" fill="#222" stroke="#222" stroke-width="0.18" text-anchor="start" >3 min</text>
<line x1="44" y1="67.4" x2="64.1" y2="67.4" stroke="#c8c400" stroke-width="2.0" />
<text x="65.6" y="70.4" font-size="8.3" fill="#222" stroke="#222" stroke-width="0.18" text-anchor="start" >4 min</text>
<text x="6" y="16.7" font-size="14.8" fill="#111"  text-anchor="start" stroke="#111" stroke-width="0.2">a</text>
<line x1="395.8" y1="25.2" x2="395.8" y2="192" stroke="#444" stroke-width="0.9" />
<g fill="none" stroke="#4fb06e" stroke-width="0.85"><circle cx="315.7" cy="133.63" r="1.6"/><circle cx="317.98" cy="133.74" r="1.6"/><circle cx="320.26" cy="133.87" r="1.6"/><circle cx="322.54" cy="134" r="1.6"/><circle cx="324.82" cy="134.14" r="1.6"/><circle cx="327.1" cy="134.3" r="1.6"/><circle cx="329.38" cy="134.46" r="1.6"/><circle cx="331.66" cy="134.64" r="1.6"/><circle cx="333.94" cy="134.82" r="1.6"/><circle cx="336.22" cy="135" r="1.6"/><circle cx="338.5" cy="135.2" r="1.6"/><circle cx="340.78" cy="135.4" r="1.6"/><circle cx="343.06" cy="135.61" r="1.6"/><circle cx="345.34" cy="135.82" r="1.6"/><circle cx="347.62" cy="136.04" r="1.6"/><circle cx="349.9" cy="136.26" r="1.6"/><circle cx="352.18" cy="136.49" r="1.6"/><circle cx="354.46" cy="136.71" r="1.6"/><circle cx="356.74" cy="136.94" r="1.6"/><circle cx="359.02" cy="137.17" r="1.6"/><circle cx="361.3" cy="137.42" r="1.6"/><circle cx="363.58" cy="137.68" r="1.6"/><circle cx="365.86" cy="137.97" r="1.6"/><circle cx="368.14" cy="138.29" r="1.6"/><circle cx="370.42" cy="138.64" r="1.6"/><circle cx="372.7" cy="139.04" r="1.6"/><circle cx="374.98" cy="139.47" r="1.6"/><circle cx="377.26" cy="139.99" r="1.6"/><circle cx="379.54" cy="140.66" r="1.6"/><circle cx="381.82" cy="141.49" r="1.6"/><circle cx="384.1" cy="142.51" r="1.6"/><circle cx="386.38" cy="143.72" r="1.6"/><circle cx="388.66" cy="145.44" r="1.6"/><circle cx="390.94" cy="148.15" r="1.6"/><circle cx="393.22" cy="153.74" r="1.6"/><circle cx="393.98" cy="157.09" r="1.6"/><circle cx="394.74" cy="162.49" r="1.6"/><circle cx="395.5" cy="170.19" r="1.6"/><circle cx="396.26" cy="165.19" r="1.6"/><circle cx="397.02" cy="161.42" r="1.6"/><circle cx="397.78" cy="159.15" r="1.6"/><circle cx="398.92" cy="154.96" r="1.6"/><circle cx="400.06" cy="150.04" r="1.6"/><circle cx="401.2" cy="146.01" r="1.6"/><circle cx="402.34" cy="143.04" r="1.6"/><circle cx="404.62" cy="138.07" r="1.6"/><circle cx="406.9" cy="132.86" r="1.6"/><circle cx="409.18" cy="128.51" r="1.6"/><circle cx="411.46" cy="124.95" r="1.6"/><circle cx="413.74" cy="121.78" r="1.6"/><circle cx="416.02" cy="118.88" r="1.6"/><circle cx="418.3" cy="116.15" r="1.6"/><circle cx="420.58" cy="113.48" r="1.6"/><circle cx="422.86" cy="110.78" r="1.6"/><circle cx="425.14" cy="108" r="1.6"/><circle cx="427.42" cy="105.27" r="1.6"/><circle cx="429.7" cy="102.6" r="1.6"/><circle cx="431.98" cy="99.98" r="1.6"/><circle cx="434.26" cy="97.44" r="1.6"/><circle cx="436.54" cy="94.96" r="1.6"/><circle cx="438.82" cy="92.52" r="1.6"/><circle cx="441.1" cy="90.13" r="1.6"/><circle cx="443.38" cy="87.78" r="1.6"/><circle cx="445.66" cy="85.49" r="1.6"/><circle cx="447.94" cy="83.28" r="1.6"/><circle cx="450.22" cy="81.15" r="1.6"/><circle cx="452.5" cy="79.11" r="1.6"/><circle cx="454.78" cy="77.08" r="1.6"/><circle cx="457.06" cy="75.06" r="1.6"/><circle cx="459.34" cy="73.09" r="1.6"/><circle cx="461.62" cy="71.19" r="1.6"/><circle cx="463.9" cy="69.39" r="1.6"/><circle cx="466.18" cy="67.71" r="1.6"/><circle cx="468.46" cy="66.2" r="1.6"/><circle cx="470.74" cy="64.87" r="1.6"/><circle cx="473.02" cy="63.7" r="1.6"/><circle cx="475.3" cy="62.65" r="1.6"/><circle cx="477.58" cy="61.69" r="1.6"/><circle cx="479.86" cy="60.8" r="1.6"/><circle cx="482.14" cy="59.95" r="1.6"/><circle cx="484.42" cy="59.14" r="1.6"/><circle cx="486.7" cy="58.38" r="1.6"/><circle cx="488.98" cy="57.65" r="1.6"/><circle cx="491.26" cy="56.96" r="1.6"/><circle cx="493.54" cy="56.31" r="1.6"/><circle cx="495.82" cy="55.67" r="1.6"/><circle cx="498.1" cy="55.06" r="1.6"/><circle cx="500.38" cy="54.45" r="1.6"/><circle cx="502.66" cy="53.85" r="1.6"/><circle cx="504.94" cy="53.27" r="1.6"/><circle cx="507.22" cy="52.7" r="1.6"/><circle cx="509.5" cy="52.15" r="1.6"/><circle cx="511.78" cy="51.62" r="1.6"/><circle cx="514.06" cy="51.11" r="1.6"/><circle cx="516.34" cy="50.62" r="1.6"/><circle cx="518.62" cy="50.15" r="1.6"/><circle cx="520.9" cy="49.71" r="1.6"/></g>
<g fill="none" stroke="#e8605a" stroke-width="0.85"><circle cx="315.7" cy="121.37" r="1.6"/><circle cx="317.98" cy="121.6" r="1.6"/><circle cx="320.26" cy="121.85" r="1.6"/><circle cx="322.54" cy="122.11" r="1.6"/><circle cx="324.82" cy="122.39" r="1.6"/><circle cx="327.1" cy="122.68" r="1.6"/><circle cx="329.38" cy="122.98" r="1.6"/><circle cx="331.66" cy="123.3" r="1.6"/><circle cx="333.94" cy="123.62" r="1.6"/><circle cx="336.22" cy="123.96" r="1.6"/><circle cx="338.5" cy="124.3" r="1.6"/><circle cx="340.78" cy="124.66" r="1.6"/><circle cx="343.06" cy="125.02" r="1.6"/><circle cx="345.34" cy="125.4" r="1.6"/><circle cx="347.62" cy="125.77" r="1.6"/><circle cx="349.9" cy="126.16" r="1.6"/><circle cx="352.18" cy="126.55" r="1.6"/><circle cx="354.46" cy="126.94" r="1.6"/><circle cx="356.74" cy="127.34" r="1.6"/><circle cx="359.02" cy="127.75" r="1.6"/><circle cx="361.3" cy="128.17" r="1.6"/><circle cx="363.58" cy="128.62" r="1.6"/><circle cx="365.86" cy="129.1" r="1.6"/><circle cx="368.14" cy="129.61" r="1.6"/><circle cx="370.42" cy="130.16" r="1.6"/><circle cx="372.7" cy="130.76" r="1.6"/><circle cx="374.98" cy="131.41" r="1.6"/><circle cx="377.26" cy="132.14" r="1.6"/><circle cx="379.54" cy="132.98" r="1.6"/><circle cx="381.82" cy="133.98" r="1.6"/><circle cx="384.1" cy="135.16" r="1.6"/><circle cx="386.38" cy="136.55" r="1.6"/><circle cx="388.66" cy="138.38" r="1.6"/><circle cx="390.94" cy="141.17" r="1.6"/><circle cx="393.22" cy="146.74" r="1.6"/><circle cx="393.98" cy="150.01" r="1.6"/><circle cx="394.74" cy="154.27" r="1.6"/><circle cx="395.5" cy="160.82" r="1.6"/><circle cx="396.26" cy="155.71" r="1.6"/><circle cx="397.02" cy="148.66" r="1.6"/><circle cx="397.78" cy="144.58" r="1.6"/><circle cx="398.92" cy="140.23" r="1.6"/><circle cx="400.06" cy="137.47" r="1.6"/><circle cx="402.34" cy="133.53" r="1.6"/><circle cx="404.62" cy="130.28" r="1.6"/><circle cx="406.9" cy="126.8" r="1.6"/><circle cx="409.18" cy="123.47" r="1.6"/><circle cx="411.46" cy="120.28" r="1.6"/><circle cx="413.74" cy="117.19" r="1.6"/><circle cx="416.02" cy="114.2" r="1.6"/><circle cx="418.3" cy="111.27" r="1.6"/><circle cx="420.58" cy="108.39" r="1.6"/><circle cx="422.86" cy="105.57" r="1.6"/><circle cx="425.14" cy="102.82" r="1.6"/><circle cx="427.42" cy="100.15" r="1.6"/><circle cx="429.7" cy="97.58" r="1.6"/><circle cx="431.98" cy="95.13" r="1.6"/><circle cx="434.26" cy="92.78" r="1.6"/><circle cx="436.54" cy="90.53" r="1.6"/><circle cx="438.82" cy="88.36" r="1.6"/><circle cx="441.1" cy="86.25" r="1.6"/><circle cx="443.38" cy="84.17" r="1.6"/><circle cx="445.66" cy="82.11" r="1.6"/><circle cx="447.94" cy="80.05" r="1.6"/><circle cx="450.22" cy="77.94" r="1.6"/><circle cx="452.5" cy="75.75" r="1.6"/><circle cx="454.78" cy="73.56" r="1.6"/><circle cx="457.06" cy="71.41" r="1.6"/><circle cx="459.34" cy="69.36" r="1.6"/><circle cx="461.62" cy="67.48" r="1.6"/><circle cx="463.9" cy="65.83" r="1.6"/><circle cx="466.18" cy="64.43" r="1.6"/><circle cx="468.46" cy="63.21" r="1.6"/><circle cx="470.74" cy="62.11" r="1.6"/><circle cx="473.02" cy="61.11" r="1.6"/><circle cx="475.3" cy="60.15" r="1.6"/><circle cx="477.58" cy="59.21" r="1.6"/><circle cx="479.86" cy="58.26" r="1.6"/><circle cx="482.14" cy="57.27" r="1.6"/><circle cx="484.42" cy="56.25" r="1.6"/><circle cx="486.7" cy="55.25" r="1.6"/><circle cx="488.98" cy="54.29" r="1.6"/><circle cx="491.26" cy="53.4" r="1.6"/><circle cx="493.54" cy="52.62" r="1.6"/><circle cx="495.82" cy="51.98" r="1.6"/><circle cx="498.1" cy="51.38" r="1.6"/><circle cx="500.38" cy="50.79" r="1.6"/><circle cx="502.66" cy="50.22" r="1.6"/><circle cx="504.94" cy="49.67" r="1.6"/><circle cx="507.22" cy="49.16" r="1.6"/><circle cx="509.5" cy="48.69" r="1.6"/><circle cx="511.78" cy="48.26" r="1.6"/><circle cx="514.06" cy="47.88" r="1.6"/><circle cx="516.34" cy="47.55" r="1.6"/><circle cx="518.62" cy="47.28" r="1.6"/><circle cx="520.9" cy="47.07" r="1.6"/></g>
<g fill="none" stroke="#7a7a7a" stroke-width="0.85"><circle cx="315.7" cy="117.54" r="1.6"/><circle cx="317.98" cy="117.69" r="1.6"/><circle cx="320.26" cy="117.86" r="1.6"/><circle cx="322.54" cy="118.04" r="1.6"/><circle cx="324.82" cy="118.25" r="1.6"/><circle cx="327.1" cy="118.47" r="1.6"/><circle cx="329.38" cy="118.71" r="1.6"/><circle cx="331.66" cy="118.96" r="1.6"/><circle cx="333.94" cy="119.23" r="1.6"/><circle cx="336.22" cy="119.51" r="1.6"/><circle cx="338.5" cy="119.8" r="1.6"/><circle cx="340.78" cy="120.1" r="1.6"/><circle cx="343.06" cy="120.41" r="1.6"/><circle cx="345.34" cy="120.73" r="1.6"/><circle cx="347.62" cy="121.06" r="1.6"/><circle cx="349.9" cy="121.39" r="1.6"/><circle cx="352.18" cy="121.73" r="1.6"/><circle cx="354.46" cy="122.07" r="1.6"/><circle cx="356.74" cy="122.43" r="1.6"/><circle cx="359.02" cy="122.8" r="1.6"/><circle cx="361.3" cy="123.19" r="1.6"/><circle cx="363.58" cy="123.61" r="1.6"/><circle cx="365.86" cy="124.07" r="1.6"/><circle cx="368.14" cy="124.58" r="1.6"/><circle cx="370.42" cy="125.13" r="1.6"/><circle cx="372.7" cy="125.74" r="1.6"/><circle cx="374.98" cy="126.41" r="1.6"/><circle cx="377.26" cy="127.18" r="1.6"/><circle cx="379.54" cy="128.16" r="1.6"/><circle cx="381.82" cy="129.37" r="1.6"/><circle cx="384.1" cy="130.81" r="1.6"/><circle cx="386.38" cy="132.51" r="1.6"/><circle cx="388.66" cy="134.9" r="1.6"/><circle cx="390.94" cy="138.22" r="1.6"/><circle cx="393.22" cy="143.76" r="1.6"/><circle cx="393.98" cy="147.27" r="1.6"/><circle cx="394.74" cy="152.22" r="1.6"/><circle cx="395.5" cy="157.65" r="1.6"/><circle cx="395.96" cy="149.9" r="1.6"/><circle cx="396.41" cy="141.25" r="1.6"/><circle cx="396.87" cy="137.3" r="1.6"/><circle cx="397.32" cy="134.46" r="1.6"/><circle cx="397.78" cy="132.16" r="1.6"/><circle cx="398.92" cy="128.21" r="1.6"/><circle cx="400.06" cy="125.52" r="1.6"/><circle cx="402.34" cy="121.24" r="1.6"/><circle cx="404.62" cy="118.04" r="1.6"/><circle cx="406.9" cy="115.42" r="1.6"/><circle cx="409.18" cy="112.92" r="1.6"/><circle cx="411.46" cy="110.06" r="1.6"/><circle cx="413.74" cy="106.75" r="1.6"/><circle cx="416.02" cy="103.38" r="1.6"/><circle cx="418.3" cy="100.09" r="1.6"/><circle cx="420.58" cy="97.04" r="1.6"/><circle cx="422.86" cy="94.39" r="1.6"/><circle cx="425.14" cy="92.05" r="1.6"/><circle cx="427.42" cy="89.91" r="1.6"/><circle cx="429.7" cy="87.91" r="1.6"/><circle cx="431.98" cy="85.99" r="1.6"/><circle cx="434.26" cy="84.1" r="1.6"/><circle cx="436.54" cy="82.18" r="1.6"/><circle cx="438.82" cy="80.16" r="1.6"/><circle cx="441.1" cy="78" r="1.6"/><circle cx="443.38" cy="75.72" r="1.6"/><circle cx="445.66" cy="73.39" r="1.6"/><circle cx="447.94" cy="71.09" r="1.6"/><circle cx="450.22" cy="68.9" r="1.6"/><circle cx="452.5" cy="66.89" r="1.6"/><circle cx="454.78" cy="65.15" r="1.6"/><circle cx="457.06" cy="63.65" r="1.6"/><circle cx="459.34" cy="62.25" r="1.6"/><circle cx="461.62" cy="60.95" r="1.6"/><circle cx="463.9" cy="59.72" r="1.6"/><circle cx="466.18" cy="58.57" r="1.6"/><circle cx="468.46" cy="57.47" r="1.6"/><circle cx="470.74" cy="56.41" r="1.6"/><circle cx="473.02" cy="55.38" r="1.6"/><circle cx="475.3" cy="54.37" r="1.6"/><circle cx="477.58" cy="53.35" r="1.6"/><circle cx="479.86" cy="52.34" r="1.6"/><circle cx="482.14" cy="51.34" r="1.6"/><circle cx="484.42" cy="50.38" r="1.6"/><circle cx="486.7" cy="49.47" r="1.6"/><circle cx="488.98" cy="48.62" r="1.6"/><circle cx="491.26" cy="47.85" r="1.6"/><circle cx="493.54" cy="47.18" r="1.6"/><circle cx="495.82" cy="46.6" r="1.6"/><circle cx="498.1" cy="46.06" r="1.6"/><circle cx="500.38" cy="45.53" r="1.6"/><circle cx="502.66" cy="45.03" r="1.6"/><circle cx="504.94" cy="44.54" r="1.6"/><circle cx="507.22" cy="44.09" r="1.6"/><circle cx="509.5" cy="43.67" r="1.6"/><circle cx="511.78" cy="43.29" r="1.6"/><circle cx="514.06" cy="42.95" r="1.6"/><circle cx="516.34" cy="42.66" r="1.6"/><circle cx="518.62" cy="42.43" r="1.6"/><circle cx="520.9" cy="42.26" r="1.6"/></g>
<g fill="none" stroke="#3d7fe0" stroke-width="0.85"><circle cx="315.7" cy="113.69" r="1.6"/><circle cx="317.98" cy="113.98" r="1.6"/><circle cx="320.26" cy="114.29" r="1.6"/><circle cx="322.54" cy="114.61" r="1.6"/><circle cx="324.82" cy="114.95" r="1.6"/><circle cx="327.1" cy="115.29" r="1.6"/><circle cx="329.38" cy="115.65" r="1.6"/><circle cx="331.66" cy="116.02" r="1.6"/><circle cx="333.94" cy="116.4" r="1.6"/><circle cx="336.22" cy="116.8" r="1.6"/><circle cx="338.5" cy="117.2" r="1.6"/><circle cx="340.78" cy="117.61" r="1.6"/><circle cx="343.06" cy="118.03" r="1.6"/><circle cx="345.34" cy="118.45" r="1.6"/><circle cx="347.62" cy="118.89" r="1.6"/><circle cx="349.9" cy="119.33" r="1.6"/><circle cx="352.18" cy="119.77" r="1.6"/><circle cx="354.46" cy="120.21" r="1.6"/><circle cx="356.74" cy="120.65" r="1.6"/><circle cx="359.02" cy="121.09" r="1.6"/><circle cx="361.3" cy="121.55" r="1.6"/><circle cx="363.58" cy="122.03" r="1.6"/><circle cx="365.86" cy="122.55" r="1.6"/><circle cx="368.14" cy="123.1" r="1.6"/><circle cx="370.42" cy="123.71" r="1.6"/><circle cx="372.7" cy="124.37" r="1.6"/><circle cx="374.98" cy="125.09" r="1.6"/><circle cx="377.26" cy="125.92" r="1.6"/><circle cx="379.54" cy="126.94" r="1.6"/><circle cx="381.82" cy="128.15" r="1.6"/><circle cx="384.1" cy="129.52" r="1.6"/><circle cx="386.38" cy="131.07" r="1.6"/><circle cx="388.66" cy="132.88" r="1.6"/><circle cx="390.94" cy="135.69" r="1.6"/><circle cx="392.08" cy="138.14" r="1.6"/><circle cx="393.22" cy="141.89" r="1.6"/><circle cx="393.68" cy="144.24" r="1.6"/><circle cx="394.13" cy="147.29" r="1.6"/><circle cx="394.59" cy="151.03" r="1.6"/><circle cx="395.04" cy="157.38" r="1.6"/><circle cx="395.5" cy="164.45" r="1.6"/><circle cx="395.96" cy="162.22" r="1.6"/><circle cx="396.41" cy="155.29" r="1.6"/><circle cx="396.87" cy="149.41" r="1.6"/><circle cx="397.32" cy="145.43" r="1.6"/><circle cx="397.78" cy="141.94" r="1.6"/><circle cx="398.92" cy="136.55" r="1.6"/><circle cx="400.06" cy="133.51" r="1.6"/><circle cx="402.34" cy="129.19" r="1.6"/><circle cx="404.62" cy="125.3" r="1.6"/><circle cx="406.9" cy="121.84" r="1.6"/><circle cx="409.18" cy="118.7" r="1.6"/><circle cx="411.46" cy="115.75" r="1.6"/><circle cx="413.74" cy="112.88" r="1.6"/><circle cx="416.02" cy="109.97" r="1.6"/><circle cx="418.3" cy="107.04" r="1.6"/><circle cx="420.58" cy="104.16" r="1.6"/><circle cx="422.86" cy="101.36" r="1.6"/><circle cx="425.14" cy="98.68" r="1.6"/><circle cx="427.42" cy="96.14" r="1.6"/><circle cx="429.7" cy="93.77" r="1.6"/><circle cx="431.98" cy="91.56" r="1.6"/><circle cx="434.26" cy="89.46" r="1.6"/><circle cx="436.54" cy="87.44" r="1.6"/><circle cx="438.82" cy="85.46" r="1.6"/><circle cx="441.1" cy="83.48" r="1.6"/><circle cx="443.38" cy="81.47" r="1.6"/><circle cx="445.66" cy="79.38" r="1.6"/><circle cx="447.94" cy="77.15" r="1.6"/><circle cx="450.22" cy="74.81" r="1.6"/><circle cx="452.5" cy="72.47" r="1.6"/><circle cx="454.78" cy="70.19" r="1.6"/><circle cx="457.06" cy="68.07" r="1.6"/><circle cx="459.34" cy="66.18" r="1.6"/><circle cx="461.62" cy="64.6" r="1.6"/><circle cx="463.9" cy="63.22" r="1.6"/><circle cx="466.18" cy="61.97" r="1.6"/><circle cx="468.46" cy="60.81" r="1.6"/><circle cx="470.74" cy="59.74" r="1.6"/><circle cx="473.02" cy="58.72" r="1.6"/><circle cx="475.3" cy="57.73" r="1.6"/><circle cx="477.58" cy="56.75" r="1.6"/><circle cx="479.86" cy="55.77" r="1.6"/><circle cx="482.14" cy="54.81" r="1.6"/><circle cx="484.42" cy="53.87" r="1.6"/><circle cx="486.7" cy="52.97" r="1.6"/><circle cx="488.98" cy="52.13" r="1.6"/><circle cx="491.26" cy="51.36" r="1.6"/><circle cx="493.54" cy="50.68" r="1.6"/><circle cx="495.82" cy="50.1" r="1.6"/><circle cx="498.1" cy="49.55" r="1.6"/><circle cx="500.38" cy="49.01" r="1.6"/><circle cx="502.66" cy="48.49" r="1.6"/><circle cx="504.94" cy="47.99" r="1.6"/><circle cx="507.22" cy="47.52" r="1.6"/><circle cx="509.5" cy="47.09" r="1.6"/><circle cx="511.78" cy="46.69" r="1.6"/><circle cx="514.06" cy="46.34" r="1.6"/><circle cx="516.34" cy="46.03" r="1.6"/><circle cx="518.62" cy="45.77" r="1.6"/><circle cx="520.9" cy="45.57" r="1.6"/></g>
<line x1="392.5" y1="132.8" x2="450.5" y2="65.5" stroke="#111" stroke-width="1.2" />
<line x1="393.2" y1="135.2" x2="449.4" y2="71.5" stroke="#111" stroke-width="1.2" />
<line x1="393.3" y1="145.9" x2="440" y2="87.5" stroke="#111" stroke-width="1.2" />
<text x="380.3" y="104.9" font-size="7.9" fill="#222" stroke="#222" stroke-width="0.18" font-style="italic">J<tspan dy="1.8" font-size="0.7em">0</tspan></text>
<line x1="385.8" y1="109.2" x2="393.6" y2="128" stroke="#333" stroke-width="0.7" />
<path d="M394.4,130 L392,126.2 L394.9,125.2 Z" fill="#333"/>
<rect x="315.1" y="25.2" width="206.6" height="166.8" fill="none" stroke="#3a3a3a" stroke-width="1.3" />
<line x1="312.1" y1="192.01" x2="315.1" y2="192.01" stroke="#3a3a3a" stroke-width="0.8" />
<line x1="521.7" y1="192.01" x2="519.2" y2="192.01" stroke="#3a3a3a" stroke-width="0.7" />
<text transform="translate(310.3,194.41) scale(1,1.18)" font-size="6.2" fill="#333" stroke="#333" stroke-width="0.18" text-anchor="end">10<tspan dy="-2.6" font-size="0.68em">&#8722;4</tspan></text>
<line x1="315.1" y1="184.84" x2="316.6" y2="184.84" stroke="#3a3a3a" stroke-width="0.5" />
<line x1="521.7" y1="184.84" x2="520.2" y2="184.84" stroke="#3a3a3a" stroke-width="0.5" />
<line x1="315.1" y1="180.64" x2="316.6" y2="180.64" stroke="#3a3a3a" stroke-width="0.5" />
<line x1="521.7" y1="180.64" x2="520.2" y2="180.64" stroke="#3a3a3a" stroke-width="0.5" />
<line x1="315.1" y1="177.66" x2="316.6" y2="177.66" stroke="#3a3a3a" stroke-width="0.5" />
<line x1="521.7" y1="177.66" x2="520.2" y2="177.66" stroke="#3a3a3a" stroke-width="0.5" />
<line x1="315.1" y1="175.35" x2="316.6" y2="175.35" stroke="#3a3a3a" stroke-width="0.5" />
<line x1="521.7" y1="175.35" x2="520.2" y2="175.35" stroke="#3a3a3a" stroke-width="0.5" />
<line x1="315.1" y1="173.47" x2="316.6" y2="173.47" stroke="#3a3a3a" stroke-width="0.5" />
<line x1="521.7" y1="173.47" x2="520.2" y2="173.47" stroke="#3a3a3a" stroke-width="0.5" />
<line x1="315.1" y1="171.87" x2="316.6" y2="171.87" stroke="#3a3a3a" stroke-width="0.5" />
<line x1="521.7" y1="171.87" x2="520.2" y2="171.87" stroke="#3a3a3a" stroke-width="0.5" />
<line x1="315.1" y1="170.49" x2="316.6" y2="170.49" stroke="#3a3a3a" stroke-width="0.5" />
<line x1="521.7" y1="170.49" x2="520.2" y2="170.49" stroke="#3a3a3a" stroke-width="0.5" />
<line x1="315.1" y1="169.27" x2="316.6" y2="169.27" stroke="#3a3a3a" stroke-width="0.5" />
<line x1="521.7" y1="169.27" x2="520.2" y2="169.27" stroke="#3a3a3a" stroke-width="0.5" />
<line x1="312.1" y1="168.18" x2="315.1" y2="168.18" stroke="#3a3a3a" stroke-width="0.8" />
<line x1="521.7" y1="168.18" x2="519.2" y2="168.18" stroke="#3a3a3a" stroke-width="0.7" />
<text transform="translate(310.3,170.58) scale(1,1.18)" font-size="6.2" fill="#333" stroke="#333" stroke-width="0.18" text-anchor="end">10<tspan dy="-2.6" font-size="0.68em">&#8722;3</tspan></text>
<line x1="315.1" y1="161.01" x2="316.6" y2="161.01" stroke="#3a3a3a" stroke-width="0.5" />
<line x1="521.7" y1="161.01" x2="520.2" y2="161.01" stroke="#3a3a3a" stroke-width="0.5" />
<line x1="315.1" y1="156.81" x2="316.6" y2="156.81" stroke="#3a3a3a" stroke-width="0.5" />
<line x1="521.7" y1="156.81" x2="520.2" y2="156.81" stroke="#3a3a3a" stroke-width="0.5" />
<line x1="315.1" y1="153.83" x2="316.6" y2="153.83" stroke="#3a3a3a" stroke-width="0.5" />
<line x1="521.7" y1="153.83" x2="520.2" y2="153.83" stroke="#3a3a3a" stroke-width="0.5" />
<line x1="315.1" y1="151.52" x2="316.6" y2="151.52" stroke="#3a3a3a" stroke-width="0.5" />
<line x1="521.7" y1="151.52" x2="520.2" y2="151.52" stroke="#3a3a3a" stroke-width="0.5" />
<line x1="315.1" y1="149.64" x2="316.6" y2="149.64" stroke="#3a3a3a" stroke-width="0.5" />
<line x1="521.7" y1="149.64" x2="520.2" y2="149.64" stroke="#3a3a3a" stroke-width="0.5" />
<line x1="315.1" y1="148.04" x2="316.6" y2="148.04" stroke="#3a3a3a" stroke-width="0.5" />
<line x1="521.7" y1="148.04" x2="520.2" y2="148.04" stroke="#3a3a3a" stroke-width="0.5" />
<line x1="315.1" y1="146.66" x2="316.6" y2="146.66" stroke="#3a3a3a" stroke-width="0.5" />
<line x1="521.7" y1="146.66" x2="520.2" y2="146.66" stroke="#3a3a3a" stroke-width="0.5" />
<line x1="315.1" y1="145.44" x2="316.6" y2="145.44" stroke="#3a3a3a" stroke-width="0.5" />
<line x1="521.7" y1="145.44" x2="520.2" y2="145.44" stroke="#3a3a3a" stroke-width="0.5" />
<line x1="312.1" y1="144.35" x2="315.1" y2="144.35" stroke="#3a3a3a" stroke-width="0.8" />
<line x1="521.7" y1="144.35" x2="519.2" y2="144.35" stroke="#3a3a3a" stroke-width="0.7" />
<text transform="translate(310.3,146.75) scale(1,1.18)" font-size="6.2" fill="#333" stroke="#333" stroke-width="0.18" text-anchor="end">10<tspan dy="-2.6" font-size="0.68em">&#8722;2</tspan></text>
<line x1="315.1" y1="137.18" x2="316.6" y2="137.18" stroke="#3a3a3a" stroke-width="0.5" />
<line x1="521.7" y1="137.18" x2="520.2" y2="137.18" stroke="#3a3a3a" stroke-width="0.5" />
<line x1="315.1" y1="132.98" x2="316.6" y2="132.98" stroke="#3a3a3a" stroke-width="0.5" />
<line x1="521.7" y1="132.98" x2="520.2" y2="132.98" stroke="#3a3a3a" stroke-width="0.5" />
<line x1="315.1" y1="130" x2="316.6" y2="130" stroke="#3a3a3a" stroke-width="0.5" />
<line x1="521.7" y1="130" x2="520.2" y2="130" stroke="#3a3a3a" stroke-width="0.5" />
<line x1="315.1" y1="127.69" x2="316.6" y2="127.69" stroke="#3a3a3a" stroke-width="0.5" />
<line x1="521.7" y1="127.69" x2="520.2" y2="127.69" stroke="#3a3a3a" stroke-width="0.5" />
<line x1="315.1" y1="125.81" x2="316.6" y2="125.81" stroke="#3a3a3a" stroke-width="0.5" />
<line x1="521.7" y1="125.81" x2="520.2" y2="125.81" stroke="#3a3a3a" stroke-width="0.5" />
<line x1="315.1" y1="124.21" x2="316.6" y2="124.21" stroke="#3a3a3a" stroke-width="0.5" />
<line x1="521.7" y1="124.21" x2="520.2" y2="124.21" stroke="#3a3a3a" stroke-width="0.5" />
<line x1="315.1" y1="122.83" x2="316.6" y2="122.83" stroke="#3a3a3a" stroke-width="0.5" />
<line x1="521.7" y1="122.83" x2="520.2" y2="122.83" stroke="#3a3a3a" stroke-width="0.5" />
<line x1="315.1" y1="121.61" x2="316.6" y2="121.61" stroke="#3a3a3a" stroke-width="0.5" />
<line x1="521.7" y1="121.61" x2="520.2" y2="121.61" stroke="#3a3a3a" stroke-width="0.5" />
<line x1="312.1" y1="120.52" x2="315.1" y2="120.52" stroke="#3a3a3a" stroke-width="0.8" />
<line x1="521.7" y1="120.52" x2="519.2" y2="120.52" stroke="#3a3a3a" stroke-width="0.7" />
<text transform="translate(310.3,122.92) scale(1,1.18)" font-size="6.2" fill="#333" stroke="#333" stroke-width="0.18" text-anchor="end">10<tspan dy="-2.6" font-size="0.68em">&#8722;1</tspan></text>
<line x1="315.1" y1="113.35" x2="316.6" y2="113.35" stroke="#3a3a3a" stroke-width="0.5" />
<line x1="521.7" y1="113.35" x2="520.2" y2="113.35" stroke="#3a3a3a" stroke-width="0.5" />
<line x1="315.1" y1="109.15" x2="316.6" y2="109.15" stroke="#3a3a3a" stroke-width="0.5" />
<line x1="521.7" y1="109.15" x2="520.2" y2="109.15" stroke="#3a3a3a" stroke-width="0.5" />
<line x1="315.1" y1="106.17" x2="316.6" y2="106.17" stroke="#3a3a3a" stroke-width="0.5" />
<line x1="521.7" y1="106.17" x2="520.2" y2="106.17" stroke="#3a3a3a" stroke-width="0.5" />
<line x1="315.1" y1="103.86" x2="316.6" y2="103.86" stroke="#3a3a3a" stroke-width="0.5" />
<line x1="521.7" y1="103.86" x2="520.2" y2="103.86" stroke="#3a3a3a" stroke-width="0.5" />
<line x1="315.1" y1="101.98" x2="316.6" y2="101.98" stroke="#3a3a3a" stroke-width="0.5" />
<line x1="521.7" y1="101.98" x2="520.2" y2="101.98" stroke="#3a3a3a" stroke-width="0.5" />
<line x1="315.1" y1="100.38" x2="316.6" y2="100.38" stroke="#3a3a3a" stroke-width="0.5" />
<line x1="521.7" y1="100.38" x2="520.2" y2="100.38" stroke="#3a3a3a" stroke-width="0.5" />
<line x1="315.1" y1="99" x2="316.6" y2="99" stroke="#3a3a3a" stroke-width="0.5" />
<line x1="521.7" y1="99" x2="520.2" y2="99" stroke="#3a3a3a" stroke-width="0.5" />
<line x1="315.1" y1="97.78" x2="316.6" y2="97.78" stroke="#3a3a3a" stroke-width="0.5" />
<line x1="521.7" y1="97.78" x2="520.2" y2="97.78" stroke="#3a3a3a" stroke-width="0.5" />
<line x1="312.1" y1="96.69" x2="315.1" y2="96.69" stroke="#3a3a3a" stroke-width="0.8" />
<line x1="521.7" y1="96.69" x2="519.2" y2="96.69" stroke="#3a3a3a" stroke-width="0.7" />
<text transform="translate(310.3,99.09) scale(1,1.18)" font-size="6.2" fill="#333" stroke="#333" stroke-width="0.18" text-anchor="end">10<tspan dy="-2.6" font-size="0.68em">0</tspan></text>
<line x1="315.1" y1="89.52" x2="316.6" y2="89.52" stroke="#3a3a3a" stroke-width="0.5" />
<line x1="521.7" y1="89.52" x2="520.2" y2="89.52" stroke="#3a3a3a" stroke-width="0.5" />
<line x1="315.1" y1="85.32" x2="316.6" y2="85.32" stroke="#3a3a3a" stroke-width="0.5" />
<line x1="521.7" y1="85.32" x2="520.2" y2="85.32" stroke="#3a3a3a" stroke-width="0.5" />
<line x1="315.1" y1="82.34" x2="316.6" y2="82.34" stroke="#3a3a3a" stroke-width="0.5" />
<line x1="521.7" y1="82.34" x2="520.2" y2="82.34" stroke="#3a3a3a" stroke-width="0.5" />
<line x1="315.1" y1="80.03" x2="316.6" y2="80.03" stroke="#3a3a3a" stroke-width="0.5" />
<line x1="521.7" y1="80.03" x2="520.2" y2="80.03" stroke="#3a3a3a" stroke-width="0.5" />
<line x1="315.1" y1="78.15" x2="316.6" y2="78.15" stroke="#3a3a3a" stroke-width="0.5" />
<line x1="521.7" y1="78.15" x2="520.2" y2="78.15" stroke="#3a3a3a" stroke-width="0.5" />
<line x1="315.1" y1="76.55" x2="316.6" y2="76.55" stroke="#3a3a3a" stroke-width="0.5" />
<line x1="521.7" y1="76.55" x2="520.2" y2="76.55" stroke="#3a3a3a" stroke-width="0.5" />
<line x1="315.1" y1="75.17" x2="316.6" y2="75.17" stroke="#3a3a3a" stroke-width="0.5" />
<line x1="521.7" y1="75.17" x2="520.2" y2="75.17" stroke="#3a3a3a" stroke-width="0.5" />
<line x1="315.1" y1="73.95" x2="316.6" y2="73.95" stroke="#3a3a3a" stroke-width="0.5" />
<line x1="521.7" y1="73.95" x2="520.2" y2="73.95" stroke="#3a3a3a" stroke-width="0.5" />
<line x1="312.1" y1="72.86" x2="315.1" y2="72.86" stroke="#3a3a3a" stroke-width="0.8" />
<line x1="521.7" y1="72.86" x2="519.2" y2="72.86" stroke="#3a3a3a" stroke-width="0.7" />
<text transform="translate(310.3,75.26) scale(1,1.18)" font-size="6.2" fill="#333" stroke="#333" stroke-width="0.18" text-anchor="end">10<tspan dy="-2.6" font-size="0.68em">1</tspan></text>
<line x1="315.1" y1="65.69" x2="316.6" y2="65.69" stroke="#3a3a3a" stroke-width="0.5" />
<line x1="521.7" y1="65.69" x2="520.2" y2="65.69" stroke="#3a3a3a" stroke-width="0.5" />
<line x1="315.1" y1="61.49" x2="316.6" y2="61.49" stroke="#3a3a3a" stroke-width="0.5" />
<line x1="521.7" y1="61.49" x2="520.2" y2="61.49" stroke="#3a3a3a" stroke-width="0.5" />
<line x1="315.1" y1="58.51" x2="316.6" y2="58.51" stroke="#3a3a3a" stroke-width="0.5" />
<line x1="521.7" y1="58.51" x2="520.2" y2="58.51" stroke="#3a3a3a" stroke-width="0.5" />
<line x1="315.1" y1="56.2" x2="316.6" y2="56.2" stroke="#3a3a3a" stroke-width="0.5" />
<line x1="521.7" y1="56.2" x2="520.2" y2="56.2" stroke="#3a3a3a" stroke-width="0.5" />
<line x1="315.1" y1="54.32" x2="316.6" y2="54.32" stroke="#3a3a3a" stroke-width="0.5" />
<line x1="521.7" y1="54.32" x2="520.2" y2="54.32" stroke="#3a3a3a" stroke-width="0.5" />
<line x1="315.1" y1="52.72" x2="316.6" y2="52.72" stroke="#3a3a3a" stroke-width="0.5" />
<line x1="521.7" y1="52.72" x2="520.2" y2="52.72" stroke="#3a3a3a" stroke-width="0.5" />
<line x1="315.1" y1="51.34" x2="316.6" y2="51.34" stroke="#3a3a3a" stroke-width="0.5" />
<line x1="521.7" y1="51.34" x2="520.2" y2="51.34" stroke="#3a3a3a" stroke-width="0.5" />
<line x1="315.1" y1="50.12" x2="316.6" y2="50.12" stroke="#3a3a3a" stroke-width="0.5" />
<line x1="521.7" y1="50.12" x2="520.2" y2="50.12" stroke="#3a3a3a" stroke-width="0.5" />
<line x1="312.1" y1="49.03" x2="315.1" y2="49.03" stroke="#3a3a3a" stroke-width="0.8" />
<line x1="521.7" y1="49.03" x2="519.2" y2="49.03" stroke="#3a3a3a" stroke-width="0.7" />
<text transform="translate(310.3,51.43) scale(1,1.18)" font-size="6.2" fill="#333" stroke="#333" stroke-width="0.18" text-anchor="end">10<tspan dy="-2.6" font-size="0.68em">2</tspan></text>
<line x1="315.1" y1="41.86" x2="316.6" y2="41.86" stroke="#3a3a3a" stroke-width="0.5" />
<line x1="521.7" y1="41.86" x2="520.2" y2="41.86" stroke="#3a3a3a" stroke-width="0.5" />
<line x1="315.1" y1="37.66" x2="316.6" y2="37.66" stroke="#3a3a3a" stroke-width="0.5" />
<line x1="521.7" y1="37.66" x2="520.2" y2="37.66" stroke="#3a3a3a" stroke-width="0.5" />
<line x1="315.1" y1="34.68" x2="316.6" y2="34.68" stroke="#3a3a3a" stroke-width="0.5" />
<line x1="521.7" y1="34.68" x2="520.2" y2="34.68" stroke="#3a3a3a" stroke-width="0.5" />
<line x1="315.1" y1="32.37" x2="316.6" y2="32.37" stroke="#3a3a3a" stroke-width="0.5" />
<line x1="521.7" y1="32.37" x2="520.2" y2="32.37" stroke="#3a3a3a" stroke-width="0.5" />
<line x1="315.1" y1="30.49" x2="316.6" y2="30.49" stroke="#3a3a3a" stroke-width="0.5" />
<line x1="521.7" y1="30.49" x2="520.2" y2="30.49" stroke="#3a3a3a" stroke-width="0.5" />
<line x1="315.1" y1="28.89" x2="316.6" y2="28.89" stroke="#3a3a3a" stroke-width="0.5" />
<line x1="521.7" y1="28.89" x2="520.2" y2="28.89" stroke="#3a3a3a" stroke-width="0.5" />
<line x1="315.1" y1="27.51" x2="316.6" y2="27.51" stroke="#3a3a3a" stroke-width="0.5" />
<line x1="521.7" y1="27.51" x2="520.2" y2="27.51" stroke="#3a3a3a" stroke-width="0.5" />
<line x1="315.1" y1="26.29" x2="316.6" y2="26.29" stroke="#3a3a3a" stroke-width="0.5" />
<line x1="521.7" y1="26.29" x2="520.2" y2="26.29" stroke="#3a3a3a" stroke-width="0.5" />
<line x1="312.1" y1="25.2" x2="315.1" y2="25.2" stroke="#3a3a3a" stroke-width="0.8" />
<line x1="521.7" y1="25.2" x2="519.2" y2="25.2" stroke="#3a3a3a" stroke-width="0.7" />
<text transform="translate(310.3,27.6) scale(1,1.18)" font-size="6.2" fill="#333" stroke="#333" stroke-width="0.18" text-anchor="end">10<tspan dy="-2.6" font-size="0.68em">3</tspan></text>
<line x1="327.1" y1="192" x2="327.1" y2="193.8" stroke="#3a3a3a" stroke-width="0.7" />
<line x1="327.1" y1="25.2" x2="327.1" y2="26.7" stroke="#3a3a3a" stroke-width="0.6" />
<line x1="349.9" y1="192" x2="349.9" y2="195" stroke="#3a3a3a" stroke-width="0.8" />
<line x1="349.9" y1="25.2" x2="349.9" y2="27.7" stroke="#3a3a3a" stroke-width="0.7" />
<text x="349.9" y="203" font-size="6.6" fill="#333" stroke="#333" stroke-width="0.18" text-anchor="middle" >&#8722;0.2</text>
<line x1="372.7" y1="192" x2="372.7" y2="193.8" stroke="#3a3a3a" stroke-width="0.7" />
<line x1="372.7" y1="25.2" x2="372.7" y2="26.7" stroke="#3a3a3a" stroke-width="0.6" />
<line x1="395.5" y1="192" x2="395.5" y2="195" stroke="#3a3a3a" stroke-width="0.8" />
<line x1="395.5" y1="25.2" x2="395.5" y2="27.7" stroke="#3a3a3a" stroke-width="0.7" />
<text x="395.5" y="203" font-size="6.6" fill="#333" stroke="#333" stroke-width="0.18" text-anchor="middle" >0.0</text>
<line x1="418.3" y1="192" x2="418.3" y2="193.8" stroke="#3a3a3a" stroke-width="0.7" />
<line x1="418.3" y1="25.2" x2="418.3" y2="26.7" stroke="#3a3a3a" stroke-width="0.6" />
<line x1="441.1" y1="192" x2="441.1" y2="195" stroke="#3a3a3a" stroke-width="0.8" />
<line x1="441.1" y1="25.2" x2="441.1" y2="27.7" stroke="#3a3a3a" stroke-width="0.7" />
<text x="441.1" y="203" font-size="6.6" fill="#333" stroke="#333" stroke-width="0.18" text-anchor="middle" >0.2</text>
<line x1="463.9" y1="192" x2="463.9" y2="193.8" stroke="#3a3a3a" stroke-width="0.7" />
<line x1="463.9" y1="25.2" x2="463.9" y2="26.7" stroke="#3a3a3a" stroke-width="0.6" />
<line x1="486.7" y1="192" x2="486.7" y2="195" stroke="#3a3a3a" stroke-width="0.8" />
<line x1="486.7" y1="25.2" x2="486.7" y2="27.7" stroke="#3a3a3a" stroke-width="0.7" />
<text x="486.7" y="203" font-size="6.6" fill="#333" stroke="#333" stroke-width="0.18" text-anchor="middle" >0.4</text>
<line x1="509.5" y1="192" x2="509.5" y2="193.8" stroke="#3a3a3a" stroke-width="0.7" />
<line x1="509.5" y1="25.2" x2="509.5" y2="26.7" stroke="#3a3a3a" stroke-width="0.6" />
<text x="416.3" y="214.6" font-size="9.6" fill="#222" stroke="#222" stroke-width="0.18" text-anchor="middle" >Voltage (V)</text>
<text transform="translate(293.9,105.4) rotate(-90)" font-size="8.3" fill="#222" stroke="#222" stroke-width="0.18" text-anchor="middle">Current density (mA/cm<tspan dy="-3" font-size="0.68em">2</tspan><tspan dy="3">)</tspan></text>
<text x="420.3" y="37.4" font-size="9.7" fill="#1a1a1a" stroke="#1a1a1a" stroke-width="0.18" text-anchor="start" >Under dark conditions</text>
<rect x="317.8" y="45.9" width="49.5" height="41.9" fill="#fff" stroke="#9a9a9a" stroke-width="0.7" />
<line x1="322.8" y1="52.8" x2="341.8" y2="52.8" stroke="#7a7a7a" stroke-width="0.6" />
<path d="M332.6,50.8 L334.6,52.8 L332.6,54.8 L330.6,52.8 Z" fill="#fff" stroke="#7a7a7a" stroke-width="0.9"/>
<text x="344.2" y="55.7" font-size="8.0" fill="#222" stroke="#222" stroke-width="0.18" text-anchor="start" >1 min</text>
<line x1="322.8" y1="62.7" x2="341.8" y2="62.7" stroke="#e8605a" stroke-width="0.6" />
<circle cx="332.6" cy="62.7" r="1.6" fill="#fff" stroke="#e8605a" stroke-width="0.9"/>
<text x="344.2" y="65.6" font-size="8.0" fill="#222" stroke="#222" stroke-width="0.18" text-anchor="start" >2 min</text>
<line x1="322.8" y1="72.7" x2="341.8" y2="72.7" stroke="#3d7fe0" stroke-width="0.6" />
<circle cx="332.6" cy="72.7" r="1.6" fill="#fff" stroke="#3d7fe0" stroke-width="0.9"/>
<text x="344.2" y="75.6" font-size="8.0" fill="#222" stroke="#222" stroke-width="0.18" text-anchor="start" >3 min</text>
<line x1="322.8" y1="83.1" x2="341.8" y2="83.1" stroke="#4fb06e" stroke-width="0.6" />
<path d="M332.6,81.1 L334.6,83.1 L332.6,85.1 L330.6,83.1 Z" fill="#fff" stroke="#4fb06e" stroke-width="0.9"/>
<text x="344.2" y="86" font-size="8.0" fill="#222" stroke="#222" stroke-width="0.18" text-anchor="start" >4 min</text>
<text x="263.6" y="17.3" font-size="14.8" fill="#111"  text-anchor="start" stroke="#111" stroke-width="0.2">b</text>
<line x1="27.5" y1="367.6" x2="243.3" y2="367.6" stroke="#f0a860" stroke-width="1.3" stroke-dasharray="1.3 1.27"/>
<rect x="51.1" y="306.2" width="69.1" height="46" fill="none" stroke="#8a8a8a" stroke-width="0.8" />
<path d="M38.2,242.7 C38.3,246.92 38.42,260.97 38.8,268 C39.18,275.03 39.67,279.28 40.5,284.9 C41.33,290.52 42.55,296.77 43.8,301.7 C45.05,306.63 46.63,310.8 48,314.5 C49.37,318.2 50.67,321.15 52,323.9 C53.33,326.65 54.7,328.78 56,331 C57.3,333.22 59.17,336.17 59.8,337.2" stroke="#3a3a3a" stroke-width="1.35" fill="none" stroke-linejoin="round"/>
<path d="M59.9,242.7 L62.4,242.7 L62.3,328 L61.6,337.5 L60.8,337.5 L60.1,328 Z" fill="#333"/>
<path d="M61.2,337 L62.3,334.7 L63.8,339.6 L63.2,346 L64.5,340 L66.7,341.1 L67.8,343.5 L69.2,344.5 L70.1,350.4 L72.6,354.3 L74.5,357.5 L77.5,361.2" stroke="#3a3a3a" stroke-width="1.35" fill="none" stroke-linejoin="round"/>
<path d="M77.5,361.2 C77.92,361.8 78.65,362.97 80,364.8 C81.35,366.63 83.43,369.72 85.6,372.2 C87.77,374.68 90.2,377.37 93,379.7 C95.8,382.03 98.35,384.45 102.4,386.2 C106.45,387.95 111.72,388.92 117.3,390.2 C122.88,391.48 128.78,392.7 135.9,393.9 C143.02,395.1 152.65,396.52 160,397.4 C167.35,398.28 172.5,398.72 180,399.2 C187.5,399.68 194.45,399.93 205,400.3 C215.55,400.67 236.92,401.22 243.3,401.4" stroke="#3a3a3a" stroke-width="1.35" fill="none" />
<path d="M53.4,242.7 L54.1,262 L54.6,270 L55.3,252 L56,243.5 L56.4,262 L57,280 L58.2,270 L59,257.5 L59.3,242.7" stroke="#e8302a" stroke-width="1.3" fill="none" stroke-linejoin="round"/>
<path d="M83.4,242.7 L83.4,312 L84.2,318 L83.9,321 L85,325 L85.2,328.5 L86.4,331 L86.2,333.5 L87.4,335.5 L87.8,339 L88.9,342 L90.2,345 L91.6,344.8 L92.6,347.5" stroke="#e8302a" stroke-width="1.35" fill="none" stroke-linejoin="round"/>
<path d="M92.6,347.5 C93.3,348.58 95.17,351.6 96.8,354 C98.43,356.4 100.53,359.68 102.4,361.9 C104.27,364.12 105.52,365.35 108,367.3 C110.48,369.25 113.58,371.58 117.3,373.6 C121.02,375.62 125.63,377.63 130.3,379.4 C134.97,381.17 140.35,382.75 145.3,384.2 C150.25,385.65 154.22,386.87 160,388.1 C165.78,389.33 173.33,390.62 180,391.6 C186.67,392.58 189.45,393.2 200,394 C210.55,394.8 236.08,396 243.3,396.4" stroke="#e8302a" stroke-width="1.35" fill="none" />
<path d="M100.8,242.7 L101.1,296 L101.4,305 L101.3,321 L102.3,300 L103.1,298 L103.2,322 L104.2,320.4 L104.4,327.5 L105.6,324.5 L106.4,333 L107.4,330 L108.2,337.5 L109.4,335.5 L110.2,340.3 L111.9,338.5 L113.9,344.6 L115.6,342.8 L118,346.6 L120,347.6" stroke="#2f7de1" stroke-width="1.35" fill="none" stroke-linejoin="round"/>
<path d="M120,347.6 C121.1,348.28 123.95,350.08 126.6,351.7 C129.25,353.32 132.78,355.58 135.9,357.3 C139.02,359.02 141.28,360.07 145.3,362 C149.32,363.93 154.22,366.75 160,368.9 C165.78,371.05 173.98,373.12 180,374.9 C186.02,376.68 189.43,378.28 196.1,379.6 C202.77,380.92 212.13,381.87 220,382.8 C227.87,383.73 239.42,384.8 243.3,385.2" stroke="#2f7de1" stroke-width="1.35" fill="none" />
<line x1="27.5" y1="242.7" x2="27.5" y2="402.3" stroke="#3a3a3a" stroke-width="0.9" />
<line x1="27.5" y1="402.3" x2="243.3" y2="402.3" stroke="#3a3a3a" stroke-width="0.9" />
<line x1="243.3" y1="242.7" x2="243.3" y2="402.3" stroke="#666" stroke-width="0.9" />
<line x1="100.5" y1="242.7" x2="243.3" y2="242.7" stroke="#666" stroke-width="0.9" />
<line x1="27.5" y1="242.7" x2="100.5" y2="242.7" stroke="#2f7de1" stroke-width="1.4" />
<line x1="30.1" y1="392.8" x2="27.5" y2="392.8" stroke="#3a3a3a" stroke-width="0.8" />
<text x="23.6" y="395.1" font-size="6.6" fill="#333" stroke="#333" stroke-width="0.18" text-anchor="end" >1</text>
<line x1="29" y1="380.29" x2="27.5" y2="380.29" stroke="#3a3a3a" stroke-width="0.7" />
<line x1="30.1" y1="367.78" x2="27.5" y2="367.78" stroke="#3a3a3a" stroke-width="0.8" />
<text x="23.6" y="370.08" font-size="6.6" fill="#333" stroke="#333" stroke-width="0.18" text-anchor="end" >2</text>
<line x1="29" y1="355.27" x2="27.5" y2="355.27" stroke="#3a3a3a" stroke-width="0.7" />
<line x1="30.1" y1="342.76" x2="27.5" y2="342.76" stroke="#3a3a3a" stroke-width="0.8" />
<text x="23.6" y="345.06" font-size="6.6" fill="#333" stroke="#333" stroke-width="0.18" text-anchor="end" >3</text>
<line x1="29" y1="330.25" x2="27.5" y2="330.25" stroke="#3a3a3a" stroke-width="0.7" />
<line x1="30.1" y1="317.74" x2="27.5" y2="317.74" stroke="#3a3a3a" stroke-width="0.8" />
<text x="23.6" y="320.04" font-size="6.6" fill="#333" stroke="#333" stroke-width="0.18" text-anchor="end" >4</text>
<line x1="29" y1="305.23" x2="27.5" y2="305.23" stroke="#3a3a3a" stroke-width="0.7" />
<line x1="30.1" y1="292.72" x2="27.5" y2="292.72" stroke="#3a3a3a" stroke-width="0.8" />
<text x="23.6" y="295.02" font-size="6.6" fill="#333" stroke="#333" stroke-width="0.18" text-anchor="end" >5</text>
<line x1="29" y1="280.21" x2="27.5" y2="280.21" stroke="#3a3a3a" stroke-width="0.7" />
<line x1="30.1" y1="267.7" x2="27.5" y2="267.7" stroke="#3a3a3a" stroke-width="0.8" />
<text x="23.6" y="270" font-size="6.6" fill="#333" stroke="#333" stroke-width="0.18" text-anchor="end" >6</text>
<line x1="29" y1="255.19" x2="27.5" y2="255.19" stroke="#3a3a3a" stroke-width="0.7" />
<line x1="30.1" y1="242.68" x2="27.5" y2="242.68" stroke="#3a3a3a" stroke-width="0.8" />
<text x="23.6" y="244.98" font-size="6.6" fill="#333" stroke="#333" stroke-width="0.18" text-anchor="end" >7</text>
<line x1="45.5" y1="402.3" x2="45.5" y2="399.8" stroke="#3a3a3a" stroke-width="0.8" />
<text x="45.5" y="410.4" font-size="6.6" fill="#333" stroke="#333" stroke-width="0.18" text-anchor="middle" >800</text>
<line x1="73.2" y1="402.3" x2="73.2" y2="400.8" stroke="#3a3a3a" stroke-width="0.7" />
<line x1="100.9" y1="402.3" x2="100.9" y2="399.8" stroke="#3a3a3a" stroke-width="0.8" />
<text x="100.9" y="410.4" font-size="6.6" fill="#333" stroke="#333" stroke-width="0.18" text-anchor="middle" >1000</text>
<line x1="128.6" y1="402.3" x2="128.6" y2="400.8" stroke="#3a3a3a" stroke-width="0.7" />
<line x1="156.3" y1="402.3" x2="156.3" y2="399.8" stroke="#3a3a3a" stroke-width="0.8" />
<text x="156.3" y="410.4" font-size="6.6" fill="#333" stroke="#333" stroke-width="0.18" text-anchor="middle" >1200</text>
<line x1="184" y1="402.3" x2="184" y2="400.8" stroke="#3a3a3a" stroke-width="0.7" />
<line x1="211.7" y1="402.3" x2="211.7" y2="399.8" stroke="#3a3a3a" stroke-width="0.8" />
<text x="211.7" y="410.4" font-size="6.6" fill="#333" stroke="#333" stroke-width="0.18" text-anchor="middle" >1400</text>
<line x1="239.4" y1="402.3" x2="239.4" y2="400.8" stroke="#3a3a3a" stroke-width="0.7" />
<text x="135.4" y="424.2" font-size="9.2" fill="#222" stroke="#222" stroke-width="0.18" text-anchor="middle" >Wavelength (nm)</text>
<text transform="translate(12.7,321.9) rotate(-90)" font-size="9.1" fill="#222" stroke="#222" stroke-width="0.18" text-anchor="middle">Absorbance (arb. units)</text>
<text x="110" y="262.4" font-size="7.8" fill="#222" stroke="#222" stroke-width="0.18" text-anchor="start" >Saturation because of</text>
<text x="110" y="271.2" font-size="7.8" fill="#222" stroke="#222" stroke-width="0.18" text-anchor="start" >detector limit</text>
<line x1="123.4" y1="253.6" x2="104" y2="244.6" stroke="#111" stroke-width="0.8" />
<path d="M101.4,243.2 L105.8,243.6 L104.2,246.8 Z" fill="#111"/>
<text x="133.1" y="290.9" font-size="7.8" fill="#222" stroke="#222" stroke-width="0.18" text-anchor="start" >Fluctuations due to</text>
<text x="133.1" y="299.8" font-size="7.8" fill="#222" stroke="#222" stroke-width="0.18" text-anchor="start" >low intensity in IR region</text>
<line x1="131.6" y1="298.4" x2="122" y2="304.6" stroke="#111" stroke-width="0.8" />
<path d="M119.3,306.5 L121.2,303.2 L123.0,306.0 Z" fill="#111"/>
<text x="154.4" y="360" font-size="7.7" fill="#c07a3a" stroke="#c07a3a" stroke-width="0.18" text-anchor="start" >99% of light absorbed</text>
<line x1="191.6" y1="361.4" x2="180.5" y2="365.2" stroke="#111" stroke-width="0.7" />
<path d="M178,366 L181.2,363.4 L182,366.2 Z" fill="#111"/>
<rect x="198.2" y="245" width="40" height="29.4" fill="#fff" stroke="#9a9a9a" stroke-width="0.7" />
<line x1="198.6" y1="250.3" x2="216.4" y2="250.3" stroke="#3a3a3a" stroke-width="1.4" />
<text x="218.5" y="253.1" font-size="7.8" fill="#222" stroke="#222" stroke-width="0.18" text-anchor="start" >1 min</text>
<line x1="198.6" y1="259.6" x2="216.4" y2="259.6" stroke="#e8302a" stroke-width="1.4" />
<text x="218.5" y="262.4" font-size="7.8" fill="#222" stroke="#222" stroke-width="0.18" text-anchor="start" >2 min</text>
<line x1="198.6" y1="268.9" x2="216.4" y2="268.9" stroke="#2f7de1" stroke-width="1.4" />
<text x="218.5" y="271.7" font-size="7.8" fill="#222" stroke="#222" stroke-width="0.18" text-anchor="start" >4 min</text>
<text x="6" y="237" font-size="14.8" fill="#111"  text-anchor="start" stroke="#111" stroke-width="0.2">c</text>
<line x1="467.4" y1="240.1" x2="467.4" y2="401.6" stroke="#777" stroke-width="0.9" />
<g fill="#fff" stroke="#707070" stroke-width="0.7"><circle cx="337.8" cy="256.86" r="1.5"/><circle cx="339.09" cy="257.1" r="1.5"/><circle cx="340.37" cy="257.34" r="1.5"/><circle cx="341.66" cy="257.58" r="1.5"/><circle cx="342.95" cy="257.82" r="1.5"/><circle cx="344.23" cy="258.06" r="1.5"/><circle cx="345.52" cy="258.3" r="1.5"/><circle cx="346.81" cy="258.54" r="1.5"/><circle cx="348.09" cy="258.78" r="1.5"/><circle cx="349.38" cy="259.02" r="1.5"/><circle cx="350.67" cy="259.26" r="1.5"/><circle cx="351.95" cy="259.5" r="1.5"/><circle cx="353.24" cy="259.75" r="1.5"/><circle cx="354.53" cy="259.99" r="1.5"/><circle cx="355.81" cy="260.24" r="1.5"/><circle cx="357.1" cy="260.48" r="1.5"/><circle cx="358.39" cy="260.73" r="1.5"/><circle cx="359.67" cy="260.97" r="1.5"/><circle cx="360.96" cy="261.22" r="1.5"/><circle cx="362.25" cy="261.47" r="1.5"/><circle cx="363.53" cy="261.72" r="1.5"/><circle cx="364.82" cy="261.97" r="1.5"/><circle cx="366.11" cy="262.23" r="1.5"/><circle cx="367.39" cy="262.48" r="1.5"/><circle cx="368.68" cy="262.74" r="1.5"/><circle cx="369.97" cy="263" r="1.5"/><circle cx="371.25" cy="263.25" r="1.5"/><circle cx="372.54" cy="263.52" r="1.5"/><circle cx="373.83" cy="263.78" r="1.5"/><circle cx="375.11" cy="264.05" r="1.5"/><circle cx="376.4" cy="264.31" r="1.5"/><circle cx="377.69" cy="264.58" r="1.5"/><circle cx="378.97" cy="264.86" r="1.5"/><circle cx="380.26" cy="265.13" r="1.5"/><circle cx="381.55" cy="265.41" r="1.5"/><circle cx="382.83" cy="265.7" r="1.5"/><circle cx="384.12" cy="265.99" r="1.5"/><circle cx="385.41" cy="266.28" r="1.5"/><circle cx="386.69" cy="266.57" r="1.5"/><circle cx="387.98" cy="266.87" r="1.5"/><circle cx="389.27" cy="267.18" r="1.5"/><circle cx="390.55" cy="267.49" r="1.5"/><circle cx="391.84" cy="267.8" r="1.5"/><circle cx="393.13" cy="268.13" r="1.5"/><circle cx="394.41" cy="268.45" r="1.5"/><circle cx="395.7" cy="268.79" r="1.5"/><circle cx="396.99" cy="269.13" r="1.5"/><circle cx="398.27" cy="269.49" r="1.5"/><circle cx="399.56" cy="269.85" r="1.5"/><circle cx="400.85" cy="270.22" r="1.5"/><circle cx="402.13" cy="270.6" r="1.5"/><circle cx="403.42" cy="270.99" r="1.5"/><circle cx="404.71" cy="271.39" r="1.5"/><circle cx="405.99" cy="271.81" r="1.5"/><circle cx="407.28" cy="272.23" r="1.5"/><circle cx="408.57" cy="272.68" r="1.5"/><circle cx="409.85" cy="273.13" r="1.5"/><circle cx="411.14" cy="273.6" r="1.5"/><circle cx="412.43" cy="274.09" r="1.5"/><circle cx="413.71" cy="274.6" r="1.5"/><circle cx="415" cy="275.13" r="1.5"/><circle cx="416.29" cy="275.68" r="1.5"/><circle cx="417.57" cy="276.24" r="1.5"/><circle cx="418.86" cy="276.84" r="1.5"/><circle cx="420.15" cy="277.45" r="1.5"/><circle cx="421.43" cy="278.09" r="1.5"/><circle cx="422.72" cy="278.76" r="1.5"/><circle cx="424.01" cy="279.46" r="1.5"/><circle cx="425.29" cy="280.19" r="1.5"/><circle cx="426.58" cy="280.95" r="1.5"/><circle cx="427.87" cy="281.74" r="1.5"/><circle cx="429.15" cy="282.56" r="1.5"/><circle cx="430.44" cy="283.43" r="1.5"/><circle cx="431.73" cy="284.33" r="1.5"/><circle cx="433.01" cy="285.27" r="1.5"/><circle cx="434.3" cy="286.25" r="1.5"/><circle cx="435.59" cy="287.28" r="1.5"/><circle cx="436.87" cy="288.34" r="1.5"/><circle cx="438.16" cy="289.46" r="1.5"/><circle cx="439.45" cy="290.62" r="1.5"/><circle cx="440.73" cy="291.83" r="1.5"/><circle cx="442.02" cy="293.09" r="1.5"/><circle cx="443.31" cy="294.4" r="1.5"/><circle cx="444.59" cy="295.77" r="1.5"/><circle cx="445.88" cy="297.18" r="1.5"/><circle cx="447.17" cy="298.65" r="1.5"/><circle cx="448.45" cy="300.18" r="1.5"/><circle cx="449.74" cy="301.76" r="1.5"/><circle cx="451.03" cy="303.4" r="1.5"/><circle cx="452.31" cy="305.09" r="1.5"/><circle cx="453.6" cy="306.83" r="1.5"/><circle cx="454.89" cy="308.64" r="1.5"/><circle cx="456.17" cy="310.5" r="1.5"/><circle cx="457.46" cy="312.41" r="1.5"/><circle cx="458.75" cy="314.38" r="1.5"/><circle cx="460.03" cy="316.4" r="1.5"/><circle cx="461.32" cy="318.48" r="1.5"/><circle cx="462.61" cy="320.61" r="1.5"/><circle cx="463.89" cy="322.79" r="1.5"/><circle cx="465.18" cy="325.02" r="1.5"/><circle cx="466.47" cy="327.3" r="1.5"/><circle cx="467.75" cy="329.63" r="1.5"/><circle cx="469.04" cy="332" r="1.5"/><circle cx="470.33" cy="334.42" r="1.5"/><circle cx="471.61" cy="336.88" r="1.5"/><circle cx="472.9" cy="339.38" r="1.5"/><circle cx="474.19" cy="341.93" r="1.5"/><circle cx="475.47" cy="344.51" r="1.5"/><circle cx="476.76" cy="347.13" r="1.5"/><circle cx="478.05" cy="349.78" r="1.5"/><circle cx="479.33" cy="352.47" r="1.5"/><circle cx="480.62" cy="355.19" r="1.5"/><circle cx="481.91" cy="357.94" r="1.5"/><circle cx="483.19" cy="360.72" r="1.5"/><circle cx="484.48" cy="363.52" r="1.5"/><circle cx="485.77" cy="366.36" r="1.5"/><circle cx="487.05" cy="369.21" r="1.5"/><circle cx="488.34" cy="372.09" r="1.5"/><circle cx="489.63" cy="375" r="1.5"/><circle cx="490.91" cy="377.92" r="1.5"/><circle cx="492.2" cy="380.86" r="1.5"/></g>
<line x1="445.8" y1="285" x2="510" y2="410.6" stroke="#1c1ce0" stroke-width="1.4" />
<path d="M339.2,376.6 L340.48,376.57 L341.76,376.54 L343.04,376.5 L344.32,376.47 L345.6,376.43 L346.88,376.4 L348.15,376.36 L349.43,376.33 L350.71,376.29 L351.99,376.25 L353.27,376.21 L354.55,376.17 L355.83,376.13 L357.11,376.09 L358.39,376.05 L359.67,376.01 L360.95,375.97 L362.22,375.93 L363.5,375.89 L364.78,375.84 L366.06,375.8 L367.34,375.76 L368.62,375.71 L369.9,375.67 L371.18,375.62 L372.46,375.58 L373.74,375.53 L375.02,375.48 L376.3,375.43 L377.57,375.38 L378.85,375.33 L380.13,375.27 L381.41,375.22 L382.69,375.16 L383.97,375.1 L385.25,375.03 L386.53,374.97 L387.81,374.9 L389.09,374.82 L390.37,374.75 L391.65,374.67 L392.93,374.58 L394.2,374.5 L395.48,374.4 L396.76,374.31 L398.04,374.21 L399.32,374.11 L400.6,374 L401.88,373.89 L403.16,373.77 L404.44,373.65 L405.72,373.53 L407,373.4 L408.27,373.26 L409.55,373.1 L410.83,372.95 L412.11,372.78 L413.39,372.6 L414.67,372.42 L415.95,372.23 L417.23,372.04 L418.51,371.84 L419.79,371.63 L421.07,371.42 L422.35,371.21 L423.62,370.98 L424.9,370.75 L426.18,370.5 L427.46,370.23 L428.74,369.94 L430.02,369.64 L431.3,369.31 L432.58,368.95 L433.86,368.54 L435.14,368.09 L436.42,367.6 L437.7,367.07 L438.98,366.52 L440.25,365.94 L441.53,365.33 L442.81,364.71 L444.09,364.07 L445.37,363.43 L446.65,362.78 L447.93,362.12 L449.21,361.43 L450.49,360.72 L451.77,359.98 L453.05,359.21 L454.32,358.42 L455.6,357.6 L456.88,356.75 L458.16,355.88 L459.44,354.98 L460.72,354.02 L462,352.97 L463.28,351.87 L464.56,350.7 L465.84,349.46 L467.12,348.13 L468.4,346.71 L469.67,345.18 L470.95,343.53 L472.23,341.76 L473.51,339.83 L474.79,337.75 L476.07,335.47 L477.35,332.98 L478.63,330.24 L479.91,327.21 L481.19,323.86 L482.47,320.1 L483.75,315.89 L485.02,311.1 L486.3,305.63 L487.58,299.31 L488.86,291.92 L490.14,283.16 L491.42,272.58 L492.7,259.51" stroke="#666" stroke-width="0.5" fill="none" />
<g fill="#000"><circle cx="339.2" cy="376.6" r="1.75"/><circle cx="340.48" cy="376.57" r="1.75"/><circle cx="341.76" cy="376.54" r="1.75"/><circle cx="343.04" cy="376.5" r="1.75"/><circle cx="344.32" cy="376.47" r="1.75"/><circle cx="345.6" cy="376.43" r="1.75"/><circle cx="346.88" cy="376.4" r="1.75"/><circle cx="348.15" cy="376.36" r="1.75"/><circle cx="349.43" cy="376.33" r="1.75"/><circle cx="350.71" cy="376.29" r="1.75"/><circle cx="351.99" cy="376.25" r="1.75"/><circle cx="353.27" cy="376.21" r="1.75"/><circle cx="354.55" cy="376.17" r="1.75"/><circle cx="355.83" cy="376.13" r="1.75"/><circle cx="357.11" cy="376.09" r="1.75"/><circle cx="358.39" cy="376.05" r="1.75"/><circle cx="359.67" cy="376.01" r="1.75"/><circle cx="360.95" cy="375.97" r="1.75"/><circle cx="362.22" cy="375.93" r="1.75"/><circle cx="363.5" cy="375.89" r="1.75"/><circle cx="364.78" cy="375.84" r="1.75"/><circle cx="366.06" cy="375.8" r="1.75"/><circle cx="367.34" cy="375.76" r="1.75"/><circle cx="368.62" cy="375.71" r="1.75"/><circle cx="369.9" cy="375.67" r="1.75"/><circle cx="371.18" cy="375.62" r="1.75"/><circle cx="372.46" cy="375.58" r="1.75"/><circle cx="373.74" cy="375.53" r="1.75"/><circle cx="375.02" cy="375.48" r="1.75"/><circle cx="376.3" cy="375.43" r="1.75"/><circle cx="377.57" cy="375.38" r="1.75"/><circle cx="378.85" cy="375.33" r="1.75"/><circle cx="380.13" cy="375.27" r="1.75"/><circle cx="381.41" cy="375.22" r="1.75"/><circle cx="382.69" cy="375.16" r="1.75"/><circle cx="383.97" cy="375.1" r="1.75"/><circle cx="385.25" cy="375.03" r="1.75"/><circle cx="386.53" cy="374.97" r="1.75"/><circle cx="387.81" cy="374.9" r="1.75"/><circle cx="389.09" cy="374.82" r="1.75"/><circle cx="390.37" cy="374.75" r="1.75"/><circle cx="391.65" cy="374.67" r="1.75"/><circle cx="392.93" cy="374.58" r="1.75"/><circle cx="394.2" cy="374.5" r="1.75"/><circle cx="395.48" cy="374.4" r="1.75"/><circle cx="396.76" cy="374.31" r="1.75"/><circle cx="398.04" cy="374.21" r="1.75"/><circle cx="399.32" cy="374.11" r="1.75"/><circle cx="400.6" cy="374" r="1.75"/><circle cx="401.88" cy="373.89" r="1.75"/><circle cx="403.16" cy="373.77" r="1.75"/><circle cx="404.44" cy="373.65" r="1.75"/><circle cx="405.72" cy="373.53" r="1.75"/><circle cx="407" cy="373.4" r="1.75"/><circle cx="408.27" cy="373.26" r="1.75"/><circle cx="409.55" cy="373.1" r="1.75"/><circle cx="410.83" cy="372.95" r="1.75"/><circle cx="412.11" cy="372.78" r="1.75"/><circle cx="413.39" cy="372.6" r="1.75"/><circle cx="414.67" cy="372.42" r="1.75"/><circle cx="415.95" cy="372.23" r="1.75"/><circle cx="417.23" cy="372.04" r="1.75"/><circle cx="418.51" cy="371.84" r="1.75"/><circle cx="419.79" cy="371.63" r="1.75"/><circle cx="421.07" cy="371.42" r="1.75"/><circle cx="422.35" cy="371.21" r="1.75"/><circle cx="423.62" cy="370.98" r="1.75"/><circle cx="424.9" cy="370.75" r="1.75"/><circle cx="426.18" cy="370.5" r="1.75"/><circle cx="427.46" cy="370.23" r="1.75"/><circle cx="428.74" cy="369.94" r="1.75"/><circle cx="430.02" cy="369.64" r="1.75"/><circle cx="431.3" cy="369.31" r="1.75"/><circle cx="432.58" cy="368.95" r="1.75"/><circle cx="433.86" cy="368.54" r="1.75"/><circle cx="435.14" cy="368.09" r="1.75"/><circle cx="436.42" cy="367.6" r="1.75"/><circle cx="437.7" cy="367.07" r="1.75"/><circle cx="438.98" cy="366.52" r="1.75"/><circle cx="440.25" cy="365.94" r="1.75"/><circle cx="441.53" cy="365.33" r="1.75"/><circle cx="442.81" cy="364.71" r="1.75"/><circle cx="444.09" cy="364.07" r="1.75"/><circle cx="445.37" cy="363.43" r="1.75"/><circle cx="446.65" cy="362.78" r="1.75"/><circle cx="447.93" cy="362.12" r="1.75"/><circle cx="449.21" cy="361.43" r="1.75"/><circle cx="450.49" cy="360.72" r="1.75"/><circle cx="451.77" cy="359.98" r="1.75"/><circle cx="453.05" cy="359.21" r="1.75"/><circle cx="454.32" cy="358.42" r="1.75"/><circle cx="455.6" cy="357.6" r="1.75"/><circle cx="456.88" cy="356.75" r="1.75"/><circle cx="458.16" cy="355.88" r="1.75"/><circle cx="459.44" cy="354.98" r="1.75"/><circle cx="460.72" cy="354.02" r="1.75"/><circle cx="462" cy="352.97" r="1.75"/><circle cx="463.28" cy="351.87" r="1.75"/><circle cx="464.56" cy="350.7" r="1.75"/><circle cx="465.84" cy="349.46" r="1.75"/><circle cx="467.12" cy="348.13" r="1.75"/><circle cx="468.4" cy="346.71" r="1.75"/><circle cx="469.67" cy="345.18" r="1.75"/><circle cx="470.95" cy="343.53" r="1.75"/><circle cx="472.23" cy="341.76" r="1.75"/><circle cx="473.51" cy="339.83" r="1.75"/><circle cx="474.79" cy="337.75" r="1.75"/><circle cx="476.07" cy="335.47" r="1.75"/><circle cx="477.35" cy="332.98" r="1.75"/><circle cx="478.63" cy="330.24" r="1.75"/><circle cx="479.91" cy="327.21" r="1.75"/><circle cx="481.19" cy="323.86" r="1.75"/><circle cx="482.47" cy="320.1" r="1.75"/><circle cx="483.75" cy="315.89" r="1.75"/><circle cx="485.02" cy="311.1" r="1.75"/><circle cx="486.3" cy="305.63" r="1.75"/><circle cx="487.58" cy="299.31" r="1.75"/><circle cx="488.86" cy="291.92" r="1.75"/><circle cx="490.14" cy="283.16" r="1.75"/><circle cx="491.42" cy="272.58" r="1.75"/><circle cx="492.7" cy="259.51" r="1.75"/></g>
<line x1="474.6" y1="388.5" x2="503.5" y2="400.2" stroke="#888" stroke-width="0.7" />
<path d="M505.4,401 L501.6,401.2 L502.8,398.4 Z" fill="#555"/>
<rect x="327" y="240.1" width="184.5" height="161.5" fill="none" stroke="#555" stroke-width="1.3" />
<line x1="324" y1="401.6" x2="327" y2="401.6" stroke="#555" stroke-width="0.8" />
<text transform="translate(322.4,404.1) scale(1,1.18)" font-size="6.4" fill="#333" stroke="#333" stroke-width="0.18" text-anchor="end">0.0</text>
<line x1="325.4" y1="393.08" x2="327" y2="393.08" stroke="#555" stroke-width="0.7" />
<line x1="324" y1="384.55" x2="327" y2="384.55" stroke="#555" stroke-width="0.8" />
<text transform="translate(322.4,387.05) scale(1,1.18)" font-size="6.4" fill="#333" stroke="#333" stroke-width="0.18" text-anchor="end">5.0 × 10<tspan dy="-2.4" font-size="0.7em">14</tspan></text>
<line x1="325.4" y1="376.03" x2="327" y2="376.03" stroke="#555" stroke-width="0.7" />
<line x1="324" y1="367.5" x2="327" y2="367.5" stroke="#555" stroke-width="0.8" />
<text transform="translate(322.4,370) scale(1,1.18)" font-size="6.4" fill="#333" stroke="#333" stroke-width="0.18" text-anchor="end">1.0 × 10<tspan dy="-2.4" font-size="0.7em">15</tspan></text>
<line x1="325.4" y1="358.98" x2="327" y2="358.98" stroke="#555" stroke-width="0.7" />
<line x1="324" y1="350.45" x2="327" y2="350.45" stroke="#555" stroke-width="0.8" />
<text transform="translate(322.4,352.95) scale(1,1.18)" font-size="6.4" fill="#333" stroke="#333" stroke-width="0.18" text-anchor="end">1.5 × 10<tspan dy="-2.4" font-size="0.7em">15</tspan></text>
<line x1="325.4" y1="341.93" x2="327" y2="341.93" stroke="#555" stroke-width="0.7" />
<line x1="324" y1="333.4" x2="327" y2="333.4" stroke="#555" stroke-width="0.8" />
<text transform="translate(322.4,335.9) scale(1,1.18)" font-size="6.4" fill="#333" stroke="#333" stroke-width="0.18" text-anchor="end">2.0 × 10<tspan dy="-2.4" font-size="0.7em">15</tspan></text>
<line x1="325.4" y1="324.88" x2="327" y2="324.88" stroke="#555" stroke-width="0.7" />
<line x1="324" y1="316.35" x2="327" y2="316.35" stroke="#555" stroke-width="0.8" />
<text transform="translate(322.4,318.85) scale(1,1.18)" font-size="6.4" fill="#333" stroke="#333" stroke-width="0.18" text-anchor="end">2.5 × 10<tspan dy="-2.4" font-size="0.7em">15</tspan></text>
<line x1="325.4" y1="307.83" x2="327" y2="307.83" stroke="#555" stroke-width="0.7" />
<line x1="324" y1="299.3" x2="327" y2="299.3" stroke="#555" stroke-width="0.8" />
<text transform="translate(322.4,301.8) scale(1,1.18)" font-size="6.4" fill="#333" stroke="#333" stroke-width="0.18" text-anchor="end">3.0 × 10<tspan dy="-2.4" font-size="0.7em">15</tspan></text>
<line x1="325.4" y1="290.78" x2="327" y2="290.78" stroke="#555" stroke-width="0.7" />
<line x1="324" y1="282.25" x2="327" y2="282.25" stroke="#555" stroke-width="0.8" />
<text transform="translate(322.4,284.75) scale(1,1.18)" font-size="6.4" fill="#333" stroke="#333" stroke-width="0.18" text-anchor="end">3.5 × 10<tspan dy="-2.4" font-size="0.7em">15</tspan></text>
<line x1="325.4" y1="273.73" x2="327" y2="273.73" stroke="#555" stroke-width="0.7" />
<line x1="324" y1="265.2" x2="327" y2="265.2" stroke="#555" stroke-width="0.8" />
<text transform="translate(322.4,267.7) scale(1,1.18)" font-size="6.4" fill="#333" stroke="#333" stroke-width="0.18" text-anchor="end">4.0 × 10<tspan dy="-2.4" font-size="0.7em">15</tspan></text>
<line x1="325.4" y1="256.68" x2="327" y2="256.68" stroke="#555" stroke-width="0.7" />
<line x1="324" y1="248.15" x2="327" y2="248.15" stroke="#555" stroke-width="0.8" />
<text transform="translate(322.4,250.65) scale(1,1.18)" font-size="6.4" fill="#333" stroke="#333" stroke-width="0.18" text-anchor="end">4.5 × 10<tspan dy="-2.4" font-size="0.7em">15</tspan></text>
<line x1="508.7" y1="401.6" x2="511.5" y2="401.6" stroke="#555" stroke-width="0.8" />
<text transform="translate(515.3,403.6) scale(1,1.18)" font-size="5.6" fill="#555" stroke="#555" stroke-width="0.18" text-anchor="start">1 × 10<tspan dy="-2.2" font-size="0.7em">&#8722;8</tspan></text>
<line x1="510" y1="378.5" x2="511.5" y2="378.5" stroke="#555" stroke-width="0.7" />
<line x1="508.7" y1="355.4" x2="511.5" y2="355.4" stroke="#555" stroke-width="0.8" />
<text transform="translate(515.3,357.4) scale(1,1.18)" font-size="5.6" fill="#555" stroke="#555" stroke-width="0.18" text-anchor="start">2 × 10<tspan dy="-2.2" font-size="0.7em">&#8722;8</tspan></text>
<line x1="510" y1="332.3" x2="511.5" y2="332.3" stroke="#555" stroke-width="0.7" />
<line x1="508.7" y1="309.2" x2="511.5" y2="309.2" stroke="#555" stroke-width="0.8" />
<text transform="translate(515.3,311.2) scale(1,1.18)" font-size="5.6" fill="#555" stroke="#555" stroke-width="0.18" text-anchor="start">3 × 10<tspan dy="-2.2" font-size="0.7em">&#8722;8</tspan></text>
<line x1="510" y1="286.1" x2="511.5" y2="286.1" stroke="#555" stroke-width="0.7" />
<line x1="508.7" y1="263" x2="511.5" y2="263" stroke="#555" stroke-width="0.8" />
<text transform="translate(515.3,265) scale(1,1.18)" font-size="5.6" fill="#555" stroke="#555" stroke-width="0.18" text-anchor="start">4 × 10<tspan dy="-2.2" font-size="0.7em">&#8722;8</tspan></text>
<line x1="339.15" y1="401.6" x2="339.15" y2="404.6" stroke="#555" stroke-width="0.8" />
<line x1="339.15" y1="240.1" x2="339.15" y2="242.6" stroke="#555" stroke-width="0.7" />
<text x="339.15" y="411.6" font-size="6.4" fill="#333" stroke="#333" stroke-width="0.18" text-anchor="middle" >&#8722;1.0</text>
<line x1="351.97" y1="401.6" x2="351.97" y2="403.4" stroke="#555" stroke-width="0.7" />
<line x1="351.97" y1="240.1" x2="351.97" y2="241.6" stroke="#555" stroke-width="0.6" />
<line x1="364.8" y1="401.6" x2="364.8" y2="404.6" stroke="#555" stroke-width="0.8" />
<line x1="364.8" y1="240.1" x2="364.8" y2="242.6" stroke="#555" stroke-width="0.7" />
<text x="364.8" y="411.6" font-size="6.4" fill="#333" stroke="#333" stroke-width="0.18" text-anchor="middle" >&#8722;0.8</text>
<line x1="377.62" y1="401.6" x2="377.62" y2="403.4" stroke="#555" stroke-width="0.7" />
<line x1="377.62" y1="240.1" x2="377.62" y2="241.6" stroke="#555" stroke-width="0.6" />
<line x1="390.45" y1="401.6" x2="390.45" y2="404.6" stroke="#555" stroke-width="0.8" />
<line x1="390.45" y1="240.1" x2="390.45" y2="242.6" stroke="#555" stroke-width="0.7" />
<text x="390.45" y="411.6" font-size="6.4" fill="#333" stroke="#333" stroke-width="0.18" text-anchor="middle" >&#8722;0.6</text>
<line x1="403.27" y1="401.6" x2="403.27" y2="403.4" stroke="#555" stroke-width="0.7" />
<line x1="403.27" y1="240.1" x2="403.27" y2="241.6" stroke="#555" stroke-width="0.6" />
<line x1="416.1" y1="401.6" x2="416.1" y2="404.6" stroke="#555" stroke-width="0.8" />
<line x1="416.1" y1="240.1" x2="416.1" y2="242.6" stroke="#555" stroke-width="0.7" />
<text x="416.1" y="411.6" font-size="6.4" fill="#333" stroke="#333" stroke-width="0.18" text-anchor="middle" >&#8722;0.4</text>
<line x1="428.92" y1="401.6" x2="428.92" y2="403.4" stroke="#555" stroke-width="0.7" />
<line x1="428.92" y1="240.1" x2="428.92" y2="241.6" stroke="#555" stroke-width="0.6" />
<line x1="441.75" y1="401.6" x2="441.75" y2="404.6" stroke="#555" stroke-width="0.8" />
<line x1="441.75" y1="240.1" x2="441.75" y2="242.6" stroke="#555" stroke-width="0.7" />
<text x="441.75" y="411.6" font-size="6.4" fill="#333" stroke="#333" stroke-width="0.18" text-anchor="middle" >&#8722;0.2</text>
<line x1="454.57" y1="401.6" x2="454.57" y2="403.4" stroke="#555" stroke-width="0.7" />
<line x1="454.57" y1="240.1" x2="454.57" y2="241.6" stroke="#555" stroke-width="0.6" />
<line x1="467.4" y1="401.6" x2="467.4" y2="404.6" stroke="#555" stroke-width="0.8" />
<line x1="467.4" y1="240.1" x2="467.4" y2="242.6" stroke="#555" stroke-width="0.7" />
<text x="467.4" y="411.6" font-size="6.4" fill="#333" stroke="#333" stroke-width="0.18" text-anchor="middle" >0.0</text>
<line x1="480.22" y1="401.6" x2="480.22" y2="403.4" stroke="#555" stroke-width="0.7" />
<line x1="480.22" y1="240.1" x2="480.22" y2="241.6" stroke="#555" stroke-width="0.6" />
<line x1="493.05" y1="401.6" x2="493.05" y2="404.6" stroke="#555" stroke-width="0.8" />
<line x1="493.05" y1="240.1" x2="493.05" y2="242.6" stroke="#555" stroke-width="0.7" />
<text x="493.05" y="411.6" font-size="6.4" fill="#333" stroke="#333" stroke-width="0.18" text-anchor="middle" >0.2</text>
<line x1="505.88" y1="401.6" x2="505.88" y2="403.4" stroke="#555" stroke-width="0.7" />
<line x1="505.88" y1="240.1" x2="505.88" y2="241.6" stroke="#555" stroke-width="0.6" />
<text x="419.3" y="424.8" font-size="9.3" fill="#222" stroke="#222" stroke-width="0.18" text-anchor="middle" >Voltage (V)</text>
<text transform="translate(291.2,319.8) rotate(-90)" font-size="8.2" fill="#222" stroke="#222" stroke-width="0.18" text-anchor="middle">1/C<tspan dy="-2.8" font-size="0.68em">2</tspan><tspan dy="2.8"> (F</tspan><tspan dy="-2.8" font-size="0.68em">&#8722;2</tspan><tspan dy="2.8">)</tspan></text>
<text transform="translate(548.3,319.0) rotate(-90)" font-size="8.5" fill="#222" stroke="#222" stroke-width="0.18" text-anchor="middle">C (F)</text>
<text x="331.3" y="251.3" font-size="9.0" fill="#111" stroke="#111" stroke-width="0.18" text-anchor="start" >100 kHz</text>
<text x="340.4" y="305.6" font-size="9.1" fill="#111" stroke="#111" stroke-width="0.18" text-anchor="start" >d<tspan dy="2.2" font-size="0.72em">absorber</tspan><tspan dy="-2.2">=490 nm</tspan></text>
<text x="340.4" y="317.2" font-size="9.1" fill="#111" stroke="#111" stroke-width="0.18" text-anchor="start" >W<tspan dy="2.2" font-size="0.72em">SRC</tspan><tspan dy="-2.2">=320 nm@0V</tspan></text>
<text x="421.3" y="385.4" font-size="10.95" fill="#111" stroke="#111" stroke-width="0.18" text-anchor="start" >V<tspan dy="2.8" font-size="0.72em">bi</tspan><tspan dy="-2.8">~300 mV</tspan></text>
<text x="264.3" y="237.6" font-size="14.8" fill="#111"  text-anchor="start" stroke="#111" stroke-width="0.2">d</text>
</svg>
</body></html>
